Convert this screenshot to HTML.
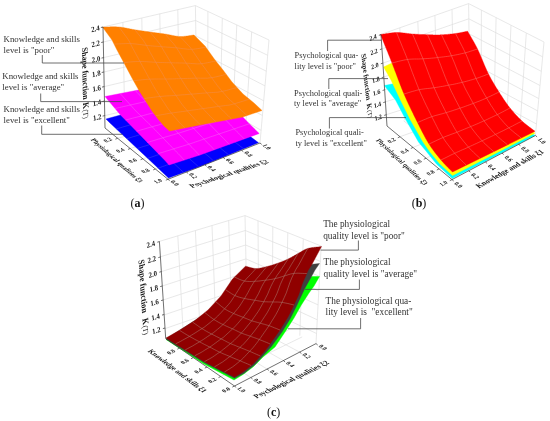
<!DOCTYPE html>
<html><head><meta charset="utf-8"><title>Figure</title>
<style>
html,body{margin:0;padding:0;background:#fff;}
body{width:550px;height:421px;overflow:hidden;}
svg{display:block;}
text{font-family:"Liberation Serif",serif;}
.lb{fill:#333;}
.b{font-weight:bold;fill:#1a1a1a;}
.cap{font-family:"Liberation Serif",serif;font-size:12px;fill:#111;}
</style></head><body>
<svg width="550" height="421" viewBox="0 0 550 421">
<rect width="550" height="421" fill="#fff"/>
<path d="M122.9 22.4 L124.8 123.3 M141.8 18.0 L143.6 118.8 M159.8 13.8 L161.6 114.5 M177.8 9.7 L179.5 110.2 M195.4 5.6 L197.0 106.0 M103.0 27.0 L195.4 5.6 M103.3 42.0 L195.6 20.5 M103.6 57.6 L195.9 36.0 M103.9 72.0 L196.1 50.3 M104.2 86.6 L196.3 64.8 M104.5 101.0 L196.6 79.2 M104.8 115.6 L196.8 93.7" fill="none" stroke="#dedede" stroke-width="0.7"/>
<path d="M207.9 11.4 L207.7 112.3 M222.3 18.2 L220.0 119.5 M236.8 24.9 L232.4 126.8 M251.7 31.9 L245.2 134.3 M269.0 40.0 L260.0 143.0 M195.4 5.6 L269.0 40.0 M195.6 20.5 L267.7 55.3 M195.9 36.0 L266.3 71.2 M196.1 50.3 L265.0 85.9 M196.3 64.8 L263.7 100.8 M196.6 79.2 L262.4 115.5 M196.8 93.7 L261.1 130.3" fill="none" stroke="#dedede" stroke-width="0.7"/>
<path d="M123.4 123.6 L186.4 172.0 M141.8 119.2 L204.8 164.8 M160.2 114.8 L223.2 157.5 M178.6 110.4 L241.6 150.3 M117.6 138.3 L209.6 113.4 M130.2 148.5 L222.2 120.8 M142.8 158.8 L234.8 128.2 M155.4 169.0 L247.4 135.6" fill="none" stroke="#dedede" stroke-width="0.7"/>
<polygon points="106.0,119.0 120.5,115.0 197.0,97.0 258.5,142.7 200.0,166.5 168.5,178.0 150.0,160.5 110.0,123.0 106.0,119.0" fill="#0000fe" stroke="#0000fe" stroke-width="0.4" stroke-linejoin="round"/>
<path d="M121.0 114.9 L122.5 116.3 L124.0 117.7 L125.4 119.1 L126.9 120.4 L128.4 121.8 L129.9 123.2 L131.4 124.6 L132.9 125.9 L134.4 127.3 L135.9 128.7 L137.4 130.0 L138.9 131.4 L140.4 132.8 L141.9 134.1 L143.4 135.5 L144.9 136.9 L146.3 138.2 L147.8 139.6 L149.3 141.0 L150.8 142.3 L152.3 143.7 L153.8 145.1 L155.3 146.4 L156.8 147.8 L158.3 149.2 L159.8 150.5 L161.3 151.9 L162.8 153.3 L164.3 154.6 L165.8 156.0 L167.3 157.4 L168.7 158.7 L170.2 160.1 L171.7 161.5 L173.2 162.9 L174.7 164.2 L176.2 165.6 L177.7 167.0 L179.2 168.4 L180.7 169.7 L182.1 171.1 L183.6 172.5 M136.2 111.3 L137.7 112.6 L139.2 114.0 L140.6 115.3 L142.1 116.7 L143.6 118.0 L145.1 119.3 L146.6 120.6 L148.1 122.0 L149.6 123.3 L151.1 124.6 L152.6 125.9 L154.1 127.2 L155.6 128.6 L157.0 129.9 L158.5 131.2 L160.0 132.5 L161.5 133.9 L163.0 135.2 L164.5 136.5 L166.0 137.8 L167.5 139.1 L169.0 140.5 L170.5 141.8 L172.0 143.1 L173.5 144.4 L175.0 145.7 L176.4 147.1 L177.9 148.4 L179.4 149.7 L180.9 151.0 L182.4 152.4 L183.9 153.7 L185.4 155.0 L186.9 156.3 L188.4 157.7 L189.8 159.0 L191.3 160.3 L192.8 161.6 L194.3 163.0 L195.8 164.3 L197.3 165.6 L198.8 166.9 M151.4 107.7 L152.9 109.0 L154.4 110.3 L155.8 111.6 L157.3 112.8 L158.8 114.1 L160.3 115.4 L161.8 116.6 L163.3 117.9 L164.7 119.2 L166.2 120.4 L167.7 121.7 L169.2 123.0 L170.7 124.2 L172.2 125.5 L173.6 126.7 L175.1 128.0 L176.6 129.3 L178.1 130.5 L179.6 131.8 L181.1 133.1 L182.6 134.3 L184.0 135.6 L185.5 136.9 L187.0 138.1 L188.5 139.4 L190.0 140.7 L191.5 141.9 L193.0 143.2 L194.4 144.4 L195.9 145.7 L197.4 147.0 L198.9 148.2 L200.4 149.5 L201.9 150.8 L203.3 152.0 L204.8 153.3 L206.3 154.6 L207.8 155.8 L209.3 157.1 L210.8 158.4 L212.2 159.7 L213.7 160.9 M166.6 104.1 L168.1 105.4 L169.5 106.6 L171.0 107.8 L172.5 109.0 L174.0 110.2 L175.4 111.4 L176.9 112.6 L178.4 113.8 L179.9 115.0 L181.4 116.2 L182.8 117.5 L184.3 118.7 L185.8 119.9 L187.3 121.1 L188.8 122.3 L190.2 123.5 L191.7 124.7 L193.2 125.9 L194.7 127.1 L196.1 128.3 L197.6 129.5 L199.1 130.7 L200.6 131.9 L202.1 133.1 L203.5 134.3 L205.0 135.5 L206.5 136.7 L208.0 137.9 L209.5 139.1 L210.9 140.4 L212.4 141.6 L213.9 142.8 L215.4 144.0 L216.8 145.2 L218.3 146.4 L219.8 147.6 L221.3 148.8 L222.7 150.0 L224.2 151.2 L225.7 152.4 L227.2 153.6 L228.6 154.8 M181.8 100.6 L183.3 101.7 L184.7 102.9 L186.2 104.0 L187.7 105.2 L189.1 106.3 L190.6 107.5 L192.1 108.6 L193.6 109.8 L195.0 110.9 L196.5 112.1 L198.0 113.2 L199.4 114.4 L200.9 115.5 L202.4 116.7 L203.9 117.8 L205.3 118.9 L206.8 120.1 L208.3 121.2 L209.7 122.4 L211.2 123.5 L212.7 124.7 L214.2 125.8 L215.6 127.0 L217.1 128.1 L218.6 129.3 L220.0 130.4 L221.5 131.6 L223.0 132.7 L224.5 133.9 L225.9 135.0 L227.4 136.1 L228.9 137.3 L230.3 138.4 L231.8 139.6 L233.3 140.7 L234.8 141.9 L236.2 143.0 L237.7 144.2 L239.2 145.3 L240.6 146.5 L242.1 147.6 L243.6 148.8 M116.3 128.9 L118.5 128.3 L120.6 127.7 L122.8 127.0 L124.9 126.4 L127.1 125.8 L129.2 125.2 L131.4 124.6 L133.6 124.0 L135.7 123.4 L137.9 122.9 L140.1 122.3 L142.3 121.8 L144.4 121.2 L146.6 120.6 L148.8 120.1 L150.9 119.5 L153.1 118.9 L155.3 118.4 L157.4 117.8 L159.6 117.2 L161.8 116.6 L163.9 116.1 L166.1 115.5 L168.3 114.9 L170.4 114.3 L172.6 113.8 L174.8 113.2 L176.9 112.6 L179.1 112.1 L181.3 111.5 L183.4 110.9 L185.6 110.3 L187.8 109.8 L189.9 109.2 L192.1 108.6 L194.3 108.1 L196.4 107.5 L198.6 106.9 L200.8 106.3 L202.9 105.8 L205.1 105.2 L207.2 104.6 M126.8 138.7 L128.9 138.1 L131.1 137.4 L133.2 136.7 L135.4 136.1 L137.5 135.4 L139.7 134.8 L141.9 134.1 L144.0 133.5 L146.2 132.9 L148.4 132.3 L150.5 131.7 L152.7 131.1 L154.9 130.5 L157.0 129.9 L159.2 129.3 L161.4 128.6 L163.5 128.0 L165.7 127.4 L167.8 126.7 L170.0 126.1 L172.2 125.5 L174.3 124.9 L176.5 124.2 L178.6 123.6 L180.8 123.0 L183.0 122.3 L185.1 121.7 L187.3 121.1 L189.4 120.4 L191.6 119.8 L193.8 119.2 L195.9 118.5 L198.1 117.9 L200.2 117.3 L202.4 116.7 L204.5 116.0 L206.7 115.4 L208.9 114.8 L211.0 114.1 L213.2 113.5 L215.3 112.9 L217.5 112.2 M137.2 148.5 L139.4 147.8 L141.5 147.1 L143.7 146.4 L145.9 145.8 L148.0 145.1 L150.2 144.4 L152.3 143.7 L154.5 143.0 L156.7 142.4 L158.8 141.7 L161.0 141.1 L163.2 140.4 L165.3 139.8 L167.5 139.1 L169.7 138.5 L171.8 137.8 L174.0 137.1 L176.1 136.4 L178.3 135.7 L180.4 135.0 L182.6 134.3 L184.7 133.6 L186.9 133.0 L189.0 132.3 L191.2 131.6 L193.3 130.9 L195.5 130.2 L197.6 129.5 L199.8 128.8 L201.9 128.1 L204.1 127.4 L206.2 126.7 L208.4 126.1 L210.5 125.4 L212.7 124.7 L214.8 124.0 L217.0 123.3 L219.1 122.6 L221.3 121.9 L223.4 121.2 L225.6 120.5 L227.8 119.8 M147.7 158.3 L149.8 157.6 L152.0 156.9 L154.1 156.2 L156.3 155.4 L158.5 154.7 L160.6 154.0 L162.8 153.3 L164.9 152.6 L167.1 151.9 L169.3 151.2 L171.4 150.5 L173.6 149.8 L175.8 149.1 L177.9 148.4 L180.1 147.7 L182.2 146.9 L184.4 146.2 L186.5 145.4 L188.7 144.7 L190.8 143.9 L193.0 143.2 L195.1 142.4 L197.3 141.7 L199.4 140.9 L201.5 140.2 L203.7 139.4 L205.8 138.7 L208.0 137.9 L210.1 137.2 L212.3 136.4 L214.4 135.7 L216.6 134.9 L218.7 134.2 L220.8 133.5 L223.0 132.7 L225.1 132.0 L227.3 131.2 L229.4 130.5 L231.6 129.7 L233.7 129.0 L235.9 128.2 L238.0 127.5 M158.1 168.2 L160.3 167.4 L162.4 166.6 L164.6 165.9 L166.7 165.1 L168.9 164.4 L171.1 163.6 L173.2 162.9 L175.4 162.1 L177.5 161.4 L179.7 160.6 L181.9 159.9 L184.0 159.2 L186.2 158.4 L188.4 157.7 L190.5 156.9 L192.7 156.1 L194.8 155.3 L196.9 154.5 L199.1 153.7 L201.2 152.9 L203.3 152.0 L205.5 151.2 L207.6 150.4 L209.8 149.6 L211.9 148.8 L214.0 148.0 L216.2 147.2 L218.3 146.4 L220.5 145.6 L222.6 144.8 L224.7 144.0 L226.9 143.2 L229.0 142.4 L231.1 141.5 L233.3 140.7 L235.4 139.9 L237.6 139.1 L239.7 138.3 L241.8 137.5 L244.0 136.7 L246.1 135.9 L248.2 135.1" fill="none" stroke="#4a4aee" stroke-width="0.5"/>
<polygon points="105.0,96.5 138.5,90.0 196.0,80.0 230.0,104.0 242.8,117.0 250.0,124.5 259.2,133.5 200.0,155.0 169.0,165.0 165.0,160.5 126.0,120.5 120.5,115.0 105.0,96.5" fill="#ff00ff" stroke="#ff00ff" stroke-width="0.4" stroke-linejoin="round"/>
<path d="M120.1 93.6 L121.6 95.2 L123.1 96.8 L124.5 98.5 L126.0 100.1 L127.5 101.7 L128.9 103.3 L130.4 105.0 L131.9 106.6 L133.3 108.2 L134.8 109.9 L136.3 111.5 L137.9 113.0 L139.5 114.5 L141.1 116.0 L142.7 117.6 L144.2 119.1 L145.8 120.6 L147.4 122.2 L148.9 123.7 L150.5 125.2 L152.1 126.8 L153.6 128.4 L155.2 129.9 L156.7 131.5 L158.2 133.1 L159.8 134.7 L161.3 136.3 L162.8 137.8 L164.4 139.4 L165.9 141.0 L167.4 142.6 L169.0 144.2 L170.5 145.7 L172.0 147.3 L173.6 148.9 L175.1 150.5 L176.6 152.1 L178.2 153.6 L179.7 155.2 L181.2 156.8 L182.7 158.5 L184.2 160.1 M135.3 90.6 L136.8 92.2 L138.3 93.7 L139.8 95.3 L141.3 96.8 L142.8 98.4 L144.3 99.9 L145.8 101.5 L147.3 103.0 L148.8 104.6 L150.3 106.1 L151.8 107.6 L153.4 109.1 L155.0 110.6 L156.6 112.0 L158.2 113.5 L159.8 115.0 L161.4 116.4 L163.0 117.9 L164.5 119.4 L166.1 120.8 L167.7 122.3 L169.2 123.9 L170.7 125.4 L172.2 127.0 L173.8 128.6 L175.3 130.1 L176.8 131.7 L178.3 133.3 L179.8 134.8 L181.3 136.4 L182.8 137.9 L184.3 139.5 L185.8 141.1 L187.3 142.6 L188.8 144.2 L190.3 145.8 L191.9 147.3 L193.4 148.9 L194.9 150.4 L196.4 152.0 L197.8 153.6 L199.3 155.2 M150.4 87.9 L152.0 89.4 L153.5 90.8 L155.0 92.3 L156.6 93.7 L158.1 95.2 L159.6 96.6 L161.2 98.1 L162.7 99.5 L164.2 101.0 L165.8 102.4 L167.3 103.8 L168.9 105.2 L170.5 106.6 L172.1 108.0 L173.7 109.4 L175.3 110.8 L176.9 112.2 L178.5 113.5 L180.1 114.9 L181.7 116.3 L183.3 117.7 L184.8 119.2 L186.2 120.8 L187.7 122.3 L189.2 123.8 L190.7 125.3 L192.2 126.9 L193.6 128.4 L195.1 129.9 L196.6 131.4 L198.1 133.0 L199.5 134.5 L201.0 136.0 L202.5 137.6 L204.0 139.1 L205.4 140.6 L206.9 142.2 L208.4 143.7 L209.9 145.2 L211.4 146.7 L212.8 148.3 L214.3 149.8 M165.6 85.3 L167.2 86.6 L168.7 88.0 L170.3 89.3 L171.9 90.7 L173.4 92.0 L175.0 93.4 L176.5 94.7 L178.1 96.0 L179.7 97.4 L181.2 98.7 L182.8 100.1 L184.4 101.4 L186.0 102.7 L187.6 104.0 L189.2 105.3 L190.8 106.6 L192.4 107.9 L194.0 109.2 L195.6 110.5 L197.2 111.8 L198.8 113.1 L200.3 114.6 L201.7 116.1 L203.2 117.6 L204.6 119.1 L206.1 120.6 L207.5 122.1 L209.0 123.5 L210.4 125.0 L211.9 126.5 L213.3 128.0 L214.8 129.5 L216.2 131.0 L217.6 132.5 L219.1 134.0 L220.5 135.5 L222.0 137.0 L223.5 138.4 L224.9 139.9 L226.4 141.4 L227.8 142.9 L229.3 144.4 M180.8 82.6 L182.4 83.9 L184.0 85.1 L185.6 86.4 L187.2 87.6 L188.8 88.9 L190.3 90.1 L191.9 91.3 L193.5 92.6 L195.1 93.8 L196.7 95.1 L198.3 96.3 L199.9 97.5 L201.5 98.8 L203.1 100.0 L204.7 101.2 L206.3 102.4 L208.0 103.7 L209.6 104.9 L211.2 106.1 L212.8 107.3 L214.4 108.6 L215.8 110.0 L217.2 111.4 L218.7 112.9 L220.1 114.3 L221.5 115.8 L222.9 117.2 L224.3 118.7 L225.8 120.1 L227.2 121.6 L228.6 123.0 L230.0 124.5 L231.4 126.0 L232.8 127.4 L234.2 128.9 L235.6 130.3 L237.1 131.8 L238.5 133.2 L239.9 134.6 L241.4 136.1 L242.8 137.5 L244.2 138.9 M115.0 108.5 L117.2 108.0 L119.4 107.5 L121.6 107.0 L123.8 106.5 L126.0 106.0 L128.2 105.5 L130.4 105.0 L132.6 104.5 L134.8 104.0 L137.0 103.5 L139.2 103.0 L141.4 102.5 L143.6 102.0 L145.8 101.5 L148.0 101.0 L150.2 100.5 L152.4 100.0 L154.6 99.5 L156.8 99.0 L159.0 98.5 L161.2 98.1 L163.4 97.6 L165.6 97.1 L167.8 96.6 L170.0 96.1 L172.2 95.7 L174.3 95.2 L176.5 94.7 L178.7 94.2 L180.9 93.7 L183.1 93.3 L185.3 92.8 L187.5 92.3 L189.7 91.8 L191.9 91.3 L194.1 90.9 L196.3 90.4 L198.5 89.9 L200.7 89.4 L202.9 88.9 L205.1 88.5 L207.3 88.0 M125.5 120.0 L127.8 119.5 L130.0 118.9 L132.2 118.3 L134.4 117.7 L136.6 117.2 L138.9 116.6 L141.1 116.0 L143.3 115.5 L145.5 114.9 L147.7 114.3 L150.0 113.7 L152.2 113.2 L154.4 112.6 L156.6 112.0 L158.8 111.4 L161.0 110.8 L163.3 110.3 L165.5 109.7 L167.7 109.1 L169.9 108.6 L172.1 108.0 L174.3 107.4 L176.5 106.8 L178.8 106.3 L181.0 105.7 L183.2 105.1 L185.4 104.6 L187.6 104.0 L189.8 103.4 L192.1 102.8 L194.3 102.3 L196.5 101.7 L198.7 101.1 L200.9 100.6 L203.1 100.0 L205.3 99.4 L207.6 98.8 L209.8 98.3 L212.0 97.7 L214.2 97.1 L216.4 96.6 L218.6 96.0 M136.5 131.2 L138.7 130.6 L140.9 130.0 L143.2 129.3 L145.4 128.7 L147.6 128.0 L149.9 127.4 L152.1 126.8 L154.3 126.1 L156.6 125.5 L158.8 124.9 L161.0 124.2 L163.3 123.6 L165.5 123.0 L167.7 122.3 L169.9 121.7 L172.2 121.0 L174.4 120.3 L176.6 119.7 L178.8 119.0 L181.1 118.4 L183.3 117.7 L185.5 117.1 L187.7 116.4 L189.9 115.8 L192.2 115.1 L194.4 114.4 L196.6 113.8 L198.8 113.1 L201.1 112.5 L203.3 111.8 L205.5 111.2 L207.7 110.5 L210.0 109.9 L212.2 109.2 L214.4 108.6 L216.6 107.9 L218.8 107.2 L221.1 106.6 L223.3 105.9 L225.5 105.3 L227.7 104.6 L230.0 104.0 M147.4 142.4 L149.6 141.8 L151.8 141.1 L154.0 140.5 L156.2 139.8 L158.4 139.1 L160.6 138.5 L162.8 137.8 L165.0 137.2 L167.2 136.5 L169.5 135.9 L171.7 135.2 L173.9 134.6 L176.1 133.9 L178.3 133.3 L180.5 132.6 L182.7 131.9 L184.9 131.2 L187.1 130.5 L189.3 129.8 L191.4 129.1 L193.6 128.4 L195.8 127.7 L198.0 127.0 L200.2 126.3 L202.4 125.6 L204.6 124.9 L206.8 124.2 L209.0 123.5 L211.2 122.8 L213.4 122.2 L215.6 121.5 L217.8 120.8 L219.9 120.1 L222.1 119.4 L224.3 118.7 L226.5 118.0 L228.7 117.3 L230.9 116.6 L233.1 115.9 L235.3 115.2 L237.5 114.5 L239.7 113.8 M158.3 153.6 L160.5 152.9 L162.7 152.3 L164.8 151.6 L167.0 150.9 L169.2 150.3 L171.4 149.6 L173.6 148.9 L175.7 148.2 L177.9 147.6 L180.1 146.9 L182.3 146.2 L184.5 145.6 L186.6 144.9 L188.8 144.2 L191.0 143.5 L193.2 142.8 L195.3 142.0 L197.5 141.3 L199.6 140.6 L201.8 139.8 L204.0 139.1 L206.1 138.4 L208.3 137.7 L210.4 136.9 L212.6 136.2 L214.8 135.5 L216.9 134.7 L219.1 134.0 L221.2 133.3 L223.4 132.5 L225.6 131.8 L227.7 131.1 L229.9 130.4 L232.0 129.6 L234.2 128.9 L236.4 128.2 L238.5 127.4 L240.7 126.7 L242.8 126.0 L245.0 125.2 L247.2 124.5 L249.3 123.8" fill="none" stroke="#f266f2" stroke-width="0.5"/>
<polygon points="102.5,27.0 102.7,27.0 103.0,27.0 103.2,27.0 103.4,27.0 103.7,27.0 103.9,27.0 104.2,27.0 104.4,27.0 104.6,27.0 104.9,27.0 105.1,27.0 105.3,27.0 105.6,27.0 105.8,27.0 106.0,26.9 106.3,26.9 106.5,26.9 106.8,26.9 107.0,26.9 107.2,26.9 107.5,26.9 107.7,26.9 107.9,26.9 108.2,26.9 108.4,26.9 108.7,26.9 108.9,26.9 109.1,26.9 109.4,26.9 109.6,26.9 109.8,26.8 110.1,26.8 110.3,26.8 110.5,26.8 110.8,26.8 111.0,26.8 111.3,26.8 111.5,26.8 111.7,26.8 112.0,26.8 112.2,26.8 112.4,26.8 112.7,26.8 112.9,26.8 113.1,26.8 113.4,26.8 113.6,26.8 113.9,26.8 114.1,26.8 114.3,26.8 114.6,26.8 114.8,26.8 115.0,26.8 115.3,26.8 115.5,26.8 115.7,26.8 116.0,26.8 116.2,26.8 116.4,26.8 116.7,26.9 116.9,26.9 117.1,26.9 117.4,26.9 117.6,26.9 117.8,26.9 118.1,26.9 118.3,26.9 118.5,27.0 118.8,27.0 119.0,27.0 119.2,27.0 119.5,27.0 119.7,27.1 119.9,27.1 120.2,27.1 120.4,27.1 120.6,27.2 120.9,27.2 121.1,27.2 121.3,27.3 121.6,27.3 121.8,27.3 122.0,27.4 122.2,27.4 122.5,27.4 122.7,27.5 122.9,27.5 123.2,27.5 123.4,27.6 123.6,27.6 123.9,27.7 124.1,27.7 124.3,27.7 124.6,27.8 124.8,27.8 125.0,27.9 125.3,27.9 125.5,27.9 125.7,28.0 125.9,28.0 126.2,28.1 126.4,28.1 126.6,28.2 126.9,28.2 127.1,28.3 127.3,28.3 127.6,28.4 127.8,28.4 128.0,28.4 128.2,28.5 128.5,28.5 128.7,28.6 128.9,28.6 129.2,28.7 129.4,28.7 129.6,28.8 129.8,28.8 130.1,28.9 130.3,28.9 130.5,29.0 130.7,29.0 131.0,29.1 131.2,29.1 131.4,29.1 131.6,29.2 131.9,29.2 132.1,29.3 132.3,29.3 132.5,29.4 132.8,29.4 133.0,29.4 133.2,29.5 133.4,29.5 133.7,29.6 133.9,29.6 134.1,29.7 134.3,29.7 134.6,29.7 134.8,29.8 135.0,29.8 135.2,29.8 135.4,29.9 135.7,29.9 135.9,29.9 136.1,30.0 136.3,30.0 136.5,30.0 136.8,30.1 137.0,30.1 137.2,30.1 137.4,30.2 137.6,30.2 137.8,30.2 138.1,30.3 138.3,30.3 138.5,30.3 138.7,30.4 138.9,30.4 139.1,30.4 139.4,30.5 139.6,30.5 139.8,30.5 140.0,30.6 140.2,30.6 140.4,30.6 140.6,30.7 140.9,30.7 141.1,30.7 141.3,30.8 141.5,30.8 141.7,30.8 141.9,30.9 142.1,30.9 142.3,30.9 142.6,31.0 142.8,31.0 143.0,31.0 143.2,31.0 143.4,31.1 143.6,31.1 143.8,31.1 144.0,31.2 144.3,31.2 144.5,31.2 144.7,31.3 144.9,31.3 145.1,31.3 145.3,31.3 145.5,31.4 145.7,31.4 146.0,31.4 146.2,31.5 146.4,31.5 146.6,31.5 146.8,31.6 147.0,31.6 147.2,31.6 147.4,31.6 147.7,31.7 147.9,31.7 148.1,31.7 148.3,31.8 148.5,31.8 148.7,31.8 148.9,31.9 149.1,31.9 149.4,31.9 149.6,31.9 149.8,32.0 150.0,32.0 150.2,32.0 150.4,32.1 150.6,32.1 150.9,32.1 151.1,32.1 151.3,32.2 151.5,32.2 151.7,32.2 151.9,32.3 152.1,32.3 152.4,32.3 152.6,32.3 152.8,32.4 153.0,32.4 153.2,32.4 153.4,32.5 153.6,32.5 153.9,32.5 154.1,32.5 154.3,32.6 154.5,32.6 154.7,32.6 154.9,32.7 155.1,32.7 155.4,32.7 155.6,32.7 155.8,32.8 156.0,32.8 156.2,32.8 156.4,32.8 156.6,32.9 156.9,32.9 157.1,32.9 157.3,33.0 157.5,33.0 157.7,33.0 157.9,33.0 158.1,33.1 158.4,33.1 158.6,33.1 158.8,33.1 159.0,33.2 159.2,33.2 159.4,33.2 159.6,33.3 159.9,33.3 160.1,33.3 160.3,33.3 160.5,33.4 160.7,33.4 160.9,33.4 161.1,33.5 161.4,33.5 161.6,33.5 161.8,33.5 162.0,33.6 162.2,33.6 162.4,33.6 162.6,33.7 162.9,33.7 163.1,33.7 163.3,33.8 163.5,33.8 163.7,33.8 163.9,33.8 164.1,33.9 164.4,33.9 164.6,33.9 164.8,34.0 165.0,34.0 165.2,34.0 165.4,34.1 165.6,34.1 165.9,34.1 166.1,34.2 166.3,34.2 166.5,34.2 166.7,34.3 166.9,34.3 167.2,34.4 167.4,34.4 167.6,34.4 167.8,34.5 168.0,34.5 168.2,34.6 168.4,34.6 168.7,34.7 168.9,34.7 169.1,34.7 169.3,34.8 169.5,34.8 169.7,34.9 170.0,34.9 170.2,35.0 170.4,35.0 170.6,35.1 170.8,35.1 171.0,35.2 171.3,35.2 171.5,35.2 171.7,35.3 171.9,35.3 172.1,35.4 172.3,35.4 172.6,35.5 172.8,35.5 173.0,35.6 173.2,35.6 173.4,35.6 173.6,35.7 173.9,35.7 174.1,35.8 174.3,35.8 174.5,35.8 174.7,35.9 174.9,35.9 175.1,36.0 175.4,36.0 175.6,36.0 175.8,36.1 176.0,36.1 176.2,36.1 176.4,36.2 176.6,36.2 176.9,36.2 177.1,36.2 177.3,36.3 177.5,36.3 177.7,36.3 177.9,36.3 178.1,36.4 178.3,36.4 178.5,36.4 178.8,36.4 179.0,36.4 179.2,36.5 179.4,36.5 179.6,36.5 179.8,36.5 180.0,36.5 180.2,36.5 180.4,36.5 180.6,36.5 180.8,36.5 181.0,36.5 181.2,36.5 181.4,36.5 181.6,36.5 181.8,36.5 182.1,36.5 182.3,36.5 182.5,36.5 182.7,36.5 182.9,36.5 183.1,36.4 183.3,36.4 183.5,36.4 183.7,36.4 183.9,36.4 184.1,36.4 184.3,36.3 184.5,36.3 184.7,36.3 184.9,36.3 185.1,36.3 185.3,36.2 185.5,36.2 185.7,36.2 185.9,36.2 186.1,36.1 186.3,36.1 186.5,36.1 186.7,36.1 186.9,36.0 187.1,36.0 187.3,36.0 187.5,35.9 187.7,35.9 187.9,35.9 188.1,35.9 188.3,35.8 188.4,35.8 188.6,35.8 188.8,35.7 189.0,35.7 189.2,35.7 189.4,35.6 189.6,35.6 189.8,35.6 190.0,35.5 190.2,35.5 190.4,35.5 190.6,35.5 190.8,35.4 191.0,35.4 191.2,35.4 191.4,35.3 191.6,35.3 191.8,35.3 192.0,35.2 192.2,35.2 192.4,35.2 192.6,35.2 192.8,35.1 193.0,35.1 193.2,35.1 193.4,35.1 193.6,35.0 193.8,35.0 194.0,35.0 205.0,46.0 215.0,60.0 223.0,70.0 232.0,82.0 243.0,94.0 254.0,103.0 262.0,110.5 242.8,117.0 205.0,124.0 169.5,131.0 164.0,126.0 158.0,119.0 152.0,111.0 145.0,100.0 139.0,90.5 132.0,78.0 124.0,63.0 117.0,50.0 112.0,40.0 102.5,27.0" fill="#ff8000" stroke="#ff8000" stroke-width="0.4" stroke-linejoin="round"/>
<path d="M119.0 27.0 L120.7 29.3 L122.4 31.6 L124.1 34.0 L125.9 36.3 L127.6 38.6 L129.1 41.0 L130.4 43.6 L131.7 46.2 L133.0 48.7 L134.4 51.3 L135.8 53.8 L137.2 56.4 L138.5 58.9 L139.9 61.4 L141.3 64.0 L142.7 66.5 L144.1 69.0 L145.5 71.6 L146.9 74.1 L148.2 76.6 L149.7 79.2 L151.1 81.7 L152.5 84.2 L153.9 86.7 L155.4 89.2 L156.9 91.6 L158.5 94.1 L160.0 96.5 L161.6 98.9 L163.2 101.3 L164.8 103.7 L166.3 106.1 L167.9 108.5 L169.7 110.8 L171.5 113.1 L173.2 115.3 L175.1 117.5 L177.0 119.7 L178.8 121.9 L180.8 124.0 L182.9 126.0 L185.0 127.9 M135.0 29.8 L136.7 32.0 L138.4 34.2 L140.1 36.3 L141.8 38.5 L143.5 40.7 L145.0 43.0 L146.4 45.4 L147.7 47.8 L149.0 50.2 L150.3 52.7 L151.7 55.1 L153.1 57.5 L154.4 59.9 L155.8 62.3 L157.2 64.7 L158.6 67.1 L160.0 69.5 L161.4 71.8 L162.8 74.2 L164.1 76.6 L165.5 79.0 L166.9 81.4 L168.3 83.8 L169.8 86.2 L171.2 88.5 L172.7 90.8 L174.3 93.1 L175.9 95.4 L177.4 97.6 L179.0 99.9 L180.5 102.2 L182.1 104.4 L183.8 106.6 L185.6 108.7 L187.3 110.8 L189.1 112.9 L190.9 115.0 L192.8 117.0 L194.6 119.1 L196.5 121.1 L198.5 123.0 L200.5 124.9 M150.0 32.0 L151.7 34.1 L153.4 36.1 L155.1 38.2 L156.8 40.2 L158.5 42.3 L160.1 44.4 L161.5 46.7 L162.8 49.0 L164.1 51.3 L165.5 53.6 L166.9 55.9 L168.2 58.2 L169.6 60.5 L171.0 62.8 L172.4 65.0 L173.9 67.3 L175.3 69.6 L176.7 71.8 L178.1 74.1 L179.5 76.4 L180.9 78.6 L182.3 80.9 L183.8 83.2 L185.2 85.4 L186.6 87.7 L188.2 89.8 L189.8 92.0 L191.4 94.1 L192.9 96.3 L194.5 98.4 L196.1 100.6 L197.7 102.7 L199.4 104.7 L201.2 106.7 L203.0 108.6 L204.8 110.6 L206.6 112.5 L208.5 114.4 L210.3 116.4 L212.2 118.3 L214.1 120.1 L216.1 121.9 M165.0 34.0 L166.7 35.9 L168.4 37.9 L170.1 39.8 L171.8 41.8 L173.5 43.7 L175.1 45.7 L176.6 47.8 L177.9 50.0 L179.3 52.2 L180.7 54.4 L182.1 56.6 L183.4 58.8 L184.8 61.0 L186.2 63.2 L187.7 65.3 L189.1 67.4 L190.6 69.6 L192.0 71.7 L193.5 73.8 L194.9 76.0 L196.3 78.2 L197.8 80.3 L199.2 82.5 L200.6 84.6 L202.1 86.8 L203.7 88.8 L205.3 90.9 L206.9 92.9 L208.5 94.9 L210.0 96.9 L211.6 99.0 L213.3 100.9 L215.1 102.8 L216.9 104.6 L218.7 106.4 L220.5 108.2 L222.4 110.0 L224.2 111.9 L226.0 113.7 L227.9 115.5 L229.7 117.3 L231.6 119.1 M180.0 36.5 L181.7 38.3 L183.4 40.1 L185.1 41.9 L186.8 43.7 L188.5 45.5 L190.2 47.3 L191.7 49.3 L193.0 51.4 L194.4 53.4 L195.8 55.5 L197.2 57.5 L198.6 59.6 L200.0 61.6 L201.4 63.7 L202.9 65.6 L204.4 67.6 L205.8 69.6 L207.3 71.6 L208.8 73.6 L210.2 75.6 L211.7 77.7 L213.1 79.7 L214.5 81.7 L216.0 83.7 L217.4 85.7 L219.0 87.6 L220.6 89.5 L222.2 91.4 L223.9 93.3 L225.5 95.1 L227.1 97.0 L228.8 98.8 L230.6 100.5 L232.4 102.1 L234.3 103.8 L236.1 105.4 L238.0 107.1 L239.8 108.8 L241.6 110.5 L243.4 112.2 L245.2 113.9 L247.0 115.6 M114.1 44.1 L116.4 44.0 L118.7 43.9 L121.1 43.8 L123.4 43.7 L125.8 43.6 L128.1 43.5 L130.4 43.6 L132.7 43.7 L135.0 43.9 L137.3 44.2 L139.6 44.5 L141.9 44.8 L144.1 45.1 L146.4 45.4 L148.6 45.6 L150.7 45.8 L152.9 46.0 L155.0 46.2 L157.2 46.3 L159.3 46.5 L161.5 46.7 L163.6 46.9 L165.8 47.0 L167.9 47.2 L170.1 47.3 L172.3 47.5 L174.4 47.7 L176.6 47.8 L178.7 48.1 L180.9 48.4 L183.1 48.7 L185.3 48.9 L187.4 49.2 L189.6 49.3 L191.7 49.3 L193.7 49.2 L195.8 48.9 L197.8 48.6 L199.8 48.3 L201.8 47.9 L203.8 47.5 L205.8 47.2 M123.7 62.5 L126.0 62.3 L128.4 62.1 L130.7 61.9 L133.0 61.7 L135.3 61.6 L137.6 61.5 L139.9 61.4 L142.2 61.5 L144.5 61.6 L146.8 61.7 L149.1 61.9 L151.3 62.0 L153.6 62.2 L155.8 62.3 L158.0 62.4 L160.2 62.5 L162.4 62.5 L164.5 62.6 L166.7 62.7 L168.9 62.7 L171.0 62.8 L173.2 62.8 L175.4 62.9 L177.5 62.9 L179.7 63.0 L181.9 63.0 L184.1 63.1 L186.2 63.2 L188.4 63.3 L190.6 63.4 L192.8 63.6 L195.0 63.7 L197.2 63.9 L199.3 63.8 L201.4 63.7 L203.5 63.4 L205.6 63.1 L207.6 62.7 L209.7 62.3 L211.7 61.8 L213.7 61.4 L215.8 61.0 M133.5 80.7 L135.8 80.5 L138.1 80.2 L140.4 80.0 L142.8 79.7 L145.1 79.5 L147.4 79.3 L149.7 79.2 L151.9 79.1 L154.2 79.0 L156.5 79.0 L158.8 79.0 L161.0 79.0 L163.3 79.0 L165.5 79.0 L167.8 79.0 L170.0 78.9 L172.2 78.9 L174.4 78.8 L176.5 78.7 L178.7 78.7 L180.9 78.6 L183.1 78.6 L185.3 78.5 L187.5 78.4 L189.7 78.4 L191.9 78.3 L194.1 78.2 L196.3 78.2 L198.5 78.1 L200.7 78.2 L203.0 78.2 L205.2 78.2 L207.4 78.2 L209.5 77.9 L211.7 77.7 L213.8 77.3 L215.9 76.9 L218.0 76.4 L220.0 75.9 L222.1 75.4 L224.2 74.8 L226.3 74.4 M144.1 98.5 L146.4 98.2 L148.6 97.9 L150.9 97.6 L153.2 97.3 L155.5 97.0 L157.8 96.7 L160.0 96.5 L162.3 96.3 L164.6 96.1 L166.9 95.9 L169.1 95.8 L171.4 95.7 L173.6 95.5 L175.9 95.4 L178.1 95.2 L180.3 95.0 L182.5 94.8 L184.7 94.7 L186.9 94.5 L189.1 94.3 L191.4 94.1 L193.6 94.0 L195.8 93.8 L198.0 93.6 L200.2 93.4 L202.4 93.2 L204.6 93.1 L206.9 92.9 L209.1 92.7 L211.3 92.6 L213.5 92.5 L215.7 92.3 L217.9 92.2 L220.1 91.8 L222.2 91.4 L224.4 90.9 L226.5 90.4 L228.6 89.8 L230.7 89.2 L232.8 88.6 L234.9 88.1 L237.0 87.5 M155.6 115.7 L157.8 115.4 L160.1 115.0 L162.4 114.6 L164.7 114.2 L166.9 113.8 L169.2 113.4 L171.5 113.1 L173.7 112.7 L176.0 112.4 L178.3 112.1 L180.5 111.8 L182.8 111.5 L185.1 111.2 L187.3 110.8 L189.6 110.5 L191.8 110.2 L194.0 109.9 L196.3 109.6 L198.5 109.3 L200.8 108.9 L203.0 108.6 L205.3 108.3 L207.5 108.0 L209.7 107.7 L212.0 107.4 L214.2 107.0 L216.5 106.7 L218.7 106.4 L221.0 106.1 L223.2 105.8 L225.4 105.5 L227.7 105.3 L229.9 105.0 L232.1 104.4 L234.3 103.8 L236.4 103.2 L238.6 102.5 L240.7 101.9 L242.9 101.2 L245.0 100.5 L247.2 99.8 L249.3 99.2" fill="none" stroke="#f0905c" stroke-width="0.45"/>
<polyline points="103.0,27.0 105.0,128.0" fill="none" stroke="#333" stroke-width="0.7"/>
<polyline points="105.0,128.0 168.0,179.3 260.0,143.0" fill="none" stroke="#333" stroke-width="0.7"/>
<polyline points="100.9,27.5 103.0,27.0" fill="none" stroke="#333" stroke-width="0.7"/>
<text transform="matrix(0.9742 -0.2256 0.1211 1.0732 99.69 27.77)" x="0" y="2.31" class="b" font-size="7" text-anchor="end">2.4</text>
<polyline points="101.2,42.5 103.3,42.0" fill="none" stroke="#333" stroke-width="0.7"/>
<text transform="matrix(0.9742 -0.2256 0.1211 1.0732 99.98 42.77)" x="0" y="2.31" class="b" font-size="7" text-anchor="end">2.2</text>
<polyline points="101.5,58.1 103.6,57.6" fill="none" stroke="#333" stroke-width="0.7"/>
<text transform="matrix(0.9742 -0.2256 0.1211 1.0732 100.29 58.37)" x="0" y="2.31" class="b" font-size="7" text-anchor="end">2.0</text>
<polyline points="101.7,72.5 103.9,72.0" fill="none" stroke="#333" stroke-width="0.7"/>
<text transform="matrix(0.9742 -0.2256 0.1211 1.0732 100.58 72.77)" x="0" y="2.31" class="b" font-size="7" text-anchor="end">1.8</text>
<polyline points="102.0,87.1 104.2,86.6" fill="none" stroke="#333" stroke-width="0.7"/>
<text transform="matrix(0.9742 -0.2256 0.1211 1.0732 100.87 87.37)" x="0" y="2.31" class="b" font-size="7" text-anchor="end">1.6</text>
<polyline points="102.3,101.5 104.5,101.0" fill="none" stroke="#333" stroke-width="0.7"/>
<text transform="matrix(0.9742 -0.2256 0.1211 1.0732 101.15 101.77)" x="0" y="2.31" class="b" font-size="7" text-anchor="end">1.4</text>
<polyline points="102.6,116.1 104.8,115.6" fill="none" stroke="#333" stroke-width="0.7"/>
<text transform="matrix(0.9742 -0.2256 0.1211 1.0732 101.44 116.37)" x="0" y="2.31" class="b" font-size="7" text-anchor="end">1.2</text>
<text transform="matrix(0.0198 0.9998 -1.0522 0.2437 82.00 48.00)" x="0" y="0.00" class="b" font-size="8.1" text-anchor="start">Shape function <tspan dx="1.0">K</tspan><tspan dx="0.8" font-weight="normal" font-size="7.0">(T)</tspan></text>
<polyline points="117.6,138.3 115.4,139.2" fill="none" stroke="#333" stroke-width="0.7"/>
<text transform="matrix(0.9288 -0.3705 0.8543 0.6929 107.60 140.06)" x="0" y="1.91" class="b" font-size="5.8" text-anchor="middle">0.2</text>
<polyline points="130.2,148.5 128.0,149.4" fill="none" stroke="#333" stroke-width="0.7"/>
<text transform="matrix(0.9288 -0.3705 0.8543 0.6929 120.20 150.32)" x="0" y="1.91" class="b" font-size="5.8" text-anchor="middle">0.4</text>
<polyline points="142.8,158.8 140.6,159.7" fill="none" stroke="#333" stroke-width="0.7"/>
<text transform="matrix(0.9288 -0.3705 0.8543 0.6929 132.80 160.58)" x="0" y="1.91" class="b" font-size="5.8" text-anchor="middle">0.6</text>
<polyline points="155.4,169.0 153.2,169.9" fill="none" stroke="#333" stroke-width="0.7"/>
<text transform="matrix(0.9288 -0.3705 0.8543 0.6929 145.40 170.84)" x="0" y="1.91" class="b" font-size="5.8" text-anchor="middle">0.8</text>
<polyline points="168.0,179.3 165.8,180.2" fill="none" stroke="#333" stroke-width="0.7"/>
<text transform="matrix(0.9288 -0.3705 0.8543 0.6929 158.00 181.10)" x="0" y="1.91" class="b" font-size="5.8" text-anchor="middle">1.0</text>
<polyline points="168.0,179.3 169.7,180.7" fill="none" stroke="#333" stroke-width="0.7"/>
<text transform="matrix(0.7767 0.6299 -1.0217 0.4076 174.80 183.00)" x="0" y="1.91" class="b" font-size="5.8" text-anchor="middle">0.0</text>
<polyline points="186.4,172.0 188.1,173.4" fill="none" stroke="#333" stroke-width="0.7"/>
<text transform="matrix(0.7767 0.6299 -1.0217 0.4076 193.20 175.74)" x="0" y="1.91" class="b" font-size="5.8" text-anchor="middle">0.2</text>
<polyline points="204.8,164.8 206.5,166.2" fill="none" stroke="#333" stroke-width="0.7"/>
<text transform="matrix(0.7767 0.6299 -1.0217 0.4076 211.60 168.48)" x="0" y="1.91" class="b" font-size="5.8" text-anchor="middle">0.4</text>
<polyline points="223.2,157.5 224.9,158.9" fill="none" stroke="#333" stroke-width="0.7"/>
<text transform="matrix(0.7767 0.6299 -1.0217 0.4076 230.00 161.22)" x="0" y="1.91" class="b" font-size="5.8" text-anchor="middle">0.6</text>
<polyline points="241.6,150.3 243.3,151.7" fill="none" stroke="#333" stroke-width="0.7"/>
<text transform="matrix(0.7767 0.6299 -1.0217 0.4076 248.40 153.96)" x="0" y="1.91" class="b" font-size="5.8" text-anchor="middle">0.8</text>
<polyline points="260.0,143.0 261.7,144.4" fill="none" stroke="#333" stroke-width="0.7"/>
<text transform="matrix(0.7767 0.6299 -1.0217 0.4076 266.80 146.70)" x="0" y="1.91" class="b" font-size="5.8" text-anchor="middle">1.0</text>
<text transform="matrix(0.7490 0.6626 -1.0682 0.4261 90.30 139.80)" x="0" y="0.00" class="b" font-size="6.1" text-anchor="start">Physiological qualities ξ3</text>
<text transform="matrix(0.9494 -0.3140 0.7767 0.6299 192.30 188.00)" x="0" y="0.00" class="b" font-size="7.5" text-anchor="start">Psychological qualities ξ2</text>
<text x="3.6" y="41.7" class="lb" font-size="8.8">Knowledge and skills</text>
<text x="3.6" y="52.5" class="lb" font-size="8.8">level is "poor"</text>
<polyline points="42.3,55.0 42.3,63.0 124.0,63.0" fill="none" stroke="#4a4a4a" stroke-width="0.8"/>
<text x="2.3" y="79.3" class="lb" font-size="8.8">Knowledge and skills</text>
<text x="2.3" y="90.4" class="lb" font-size="8.8">level is "average"</text>
<polyline points="40.7,93.5 40.7,101.6 122.0,101.6" fill="none" stroke="#4a4a4a" stroke-width="0.8"/>
<text x="3.6" y="111.5" class="lb" font-size="8.8">Knowledge and skills</text>
<text x="3.6" y="122.5" class="lb" font-size="8.8">level is "excellent"</text>
<polyline points="41.7,125.5 41.7,134.3 122.5,134.3" fill="none" stroke="#4a4a4a" stroke-width="0.8"/>
<text x="137.5" y="207.2" class="cap" text-anchor="middle">(<tspan font-weight="bold">a</tspan>)</text>
<path d="M399.8 27.8 L404.8 120.4 M417.8 21.5 L421.9 115.1 M434.9 15.5 L438.0 110.0 M452.0 9.5 L454.2 104.9 M468.6 3.6 L470.0 100.0 M381.0 34.4 L468.6 3.6 M381.9 48.9 L468.8 18.8 M382.9 63.1 L469.0 33.8 M383.8 77.0 L469.3 48.4 M384.6 89.8 L469.4 61.9 M385.4 101.9 L469.6 74.6 M386.3 114.7 L469.8 88.1" fill="none" stroke="#dedede" stroke-width="0.7"/>
<path d="M481.4 10.1 L481.1 106.0 M496.1 17.6 L493.9 113.0 M511.0 25.2 L506.8 120.0 M526.3 33.0 L520.0 127.2 M544.0 42.0 L535.4 135.5 M468.6 3.6 L544.0 42.0 M468.8 18.8 L542.6 56.8 M469.0 33.8 L541.3 71.3 M469.3 48.4 L540.0 85.5 M469.4 61.9 L538.8 98.6 M469.6 74.6 L537.7 110.9 M469.8 88.1 L536.5 124.0" fill="none" stroke="#dedede" stroke-width="0.7"/>
<path d="M403.6 120.8 L468.7 170.8 M420.2 115.6 L485.4 162.0 M436.8 110.4 L502.0 153.1 M453.4 105.2 L518.7 144.3 M400.0 136.7 L483.1 107.1 M413.0 147.4 L496.2 114.2 M426.0 158.2 L509.2 121.3 M439.0 168.9 L522.3 128.4" fill="none" stroke="#dedede" stroke-width="0.7"/>
<polygon points="384.4,85.6 392.0,84.0 466.0,70.0 480.0,85.0 500.0,105.0 515.0,121.0 535.0,135.4 452.2,178.5 436.5,164.0 426.0,151.0 418.5,142.0 406.0,120.0 395.5,100.0 384.4,85.6" fill="#00ffff" stroke="#00ffff" stroke-width="0.4" stroke-linejoin="round"/>
<polygon points="383.6,67.0 392.0,63.0 466.0,50.0 480.0,70.0 500.0,100.0 515.0,117.0 535.0,133.2 452.5,175.5 440.0,164.0 430.0,152.0 423.0,142.0 410.5,120.0 400.5,100.0 391.0,80.0 383.6,67.0" fill="#ffff00" stroke="#ffff00" stroke-width="0.4" stroke-linejoin="round"/>
<polygon points="380.5,34.5 380.7,34.5 381.0,34.4 381.2,34.4 381.4,34.4 381.6,34.3 381.9,34.3 382.1,34.3 382.3,34.3 382.6,34.2 382.8,34.2 383.0,34.1 383.2,34.1 383.5,34.1 383.7,34.0 383.9,34.0 384.2,34.0 384.4,33.9 384.6,33.9 384.8,33.9 385.1,33.8 385.3,33.8 385.5,33.8 385.8,33.7 386.0,33.7 386.2,33.6 386.4,33.6 386.7,33.6 386.9,33.5 387.1,33.5 387.4,33.5 387.6,33.4 387.8,33.4 388.0,33.4 388.3,33.3 388.5,33.3 388.7,33.2 389.0,33.2 389.2,33.2 389.4,33.1 389.6,33.1 389.9,33.1 390.1,33.0 390.3,33.0 390.6,33.0 390.8,33.0 391.0,32.9 391.2,32.9 391.5,32.9 391.7,32.8 391.9,32.8 392.2,32.8 392.4,32.8 392.6,32.7 392.8,32.7 393.1,32.7 393.3,32.7 393.5,32.7 393.8,32.6 394.0,32.6 394.2,32.6 394.4,32.6 394.7,32.6 394.9,32.6 395.1,32.5 395.4,32.5 395.6,32.5 395.8,32.5 396.0,32.5 396.3,32.5 396.5,32.5 396.7,32.5 397.0,32.5 397.2,32.5 397.4,32.5 397.6,32.5 397.9,32.5 398.1,32.5 398.3,32.5 398.6,32.5 398.8,32.5 399.0,32.5 399.3,32.6 399.5,32.6 399.7,32.6 399.9,32.6 400.2,32.6 400.4,32.6 400.6,32.7 400.9,32.7 401.1,32.7 401.3,32.7 401.6,32.7 401.8,32.8 402.0,32.8 402.3,32.8 402.5,32.8 402.7,32.9 402.9,32.9 403.2,32.9 403.4,32.9 403.6,33.0 403.9,33.0 404.1,33.0 404.3,33.1 404.6,33.1 404.8,33.1 405.0,33.1 405.3,33.2 405.5,33.2 405.7,33.2 405.9,33.3 406.2,33.3 406.4,33.3 406.6,33.3 406.9,33.4 407.1,33.4 407.3,33.4 407.5,33.5 407.8,33.5 408.0,33.5 408.2,33.6 408.5,33.6 408.7,33.6 408.9,33.6 409.1,33.7 409.4,33.7 409.6,33.7 409.8,33.7 410.0,33.8 410.3,33.8 410.5,33.8 410.7,33.8 410.9,33.9 411.2,33.9 411.4,33.9 411.6,33.9 411.8,33.9 412.1,34.0 412.3,34.0 412.5,34.0 412.7,34.0 412.9,34.0 413.2,34.0 413.4,34.1 413.6,34.1 413.8,34.1 414.0,34.1 414.3,34.1 414.5,34.1 414.7,34.1 414.9,34.2 415.1,34.2 415.4,34.2 415.6,34.2 415.8,34.2 416.0,34.2 416.2,34.2 416.5,34.3 416.7,34.3 416.9,34.3 417.1,34.3 417.3,34.3 417.5,34.3 417.8,34.3 418.0,34.3 418.2,34.3 418.4,34.4 418.6,34.4 418.8,34.4 419.1,34.4 419.3,34.4 419.5,34.4 419.7,34.4 419.9,34.4 420.1,34.4 420.3,34.4 420.6,34.5 420.8,34.5 421.0,34.5 421.2,34.5 421.4,34.5 421.6,34.5 421.8,34.5 422.0,34.5 422.3,34.5 422.5,34.5 422.7,34.5 422.9,34.6 423.1,34.6 423.3,34.6 423.5,34.6 423.7,34.6 423.9,34.6 424.2,34.6 424.4,34.6 424.6,34.6 424.8,34.6 425.0,34.6 425.2,34.6 425.4,34.6 425.6,34.6 425.8,34.7 426.0,34.7 426.3,34.7 426.5,34.7 426.7,34.7 426.9,34.7 427.1,34.7 427.3,34.7 427.5,34.7 427.7,34.7 427.9,34.7 428.1,34.7 428.3,34.7 428.5,34.7 428.7,34.7 428.9,34.7 429.1,34.7 429.3,34.8 429.6,34.8 429.8,34.8 430.0,34.8 430.2,34.8 430.4,34.8 430.6,34.8 430.8,34.8 431.0,34.8 431.2,34.8 431.4,34.8 431.6,34.8 431.8,34.8 432.0,34.8 432.2,34.8 432.4,34.8 432.6,34.8 432.8,34.8 433.0,34.8 433.2,34.9 433.4,34.9 433.6,34.9 433.8,34.9 434.0,34.9 434.2,34.9 434.4,34.9 434.6,34.9 434.8,34.9 435.0,34.9 435.2,34.9 435.4,34.9 435.6,34.9 435.8,34.9 435.9,34.9 436.1,34.9 436.3,34.9 436.5,34.9 436.7,34.9 436.9,34.9 437.1,34.9 437.3,34.9 437.5,34.9 437.7,34.9 437.9,34.9 438.1,34.9 438.3,34.9 438.5,34.9 438.7,34.9 438.9,34.9 439.1,34.9 439.3,34.9 439.5,34.9 439.7,34.9 439.9,34.9 440.1,34.8 440.3,34.8 440.5,34.8 440.7,34.8 440.9,34.8 441.1,34.8 441.3,34.8 441.5,34.8 441.7,34.8 441.9,34.8 442.1,34.8 442.3,34.8 442.5,34.8 442.7,34.7 442.9,34.7 443.1,34.7 443.3,34.7 443.5,34.7 443.7,34.7 443.9,34.7 444.1,34.7 444.3,34.6 444.5,34.6 444.7,34.6 444.9,34.6 445.1,34.6 445.4,34.6 445.6,34.6 445.8,34.5 446.0,34.5 446.2,34.5 446.4,34.5 446.6,34.5 446.8,34.5 447.0,34.4 447.2,34.4 447.4,34.4 447.6,34.4 447.8,34.4 448.0,34.4 448.2,34.3 448.4,34.3 448.6,34.3 448.8,34.3 449.0,34.3 449.2,34.2 449.4,34.2 449.6,34.2 449.8,34.2 450.0,34.2 450.2,34.1 450.4,34.1 450.6,34.1 450.8,34.1 451.0,34.1 451.2,34.0 451.4,34.0 451.6,34.0 451.8,34.0 452.0,33.9 452.2,33.9 452.4,33.9 452.6,33.9 452.8,33.8 453.0,33.8 453.2,33.8 453.4,33.8 453.6,33.8 453.8,33.7 454.0,33.7 454.2,33.7 454.4,33.7 454.6,33.6 454.7,33.6 454.9,33.6 455.1,33.6 455.3,33.5 455.5,33.5 455.7,33.5 455.9,33.4 456.1,33.4 456.2,33.4 456.4,33.4 456.6,33.3 456.8,33.3 457.0,33.3 457.1,33.3 457.3,33.2 457.5,33.2 457.7,33.2 457.9,33.1 458.0,33.1 458.2,33.1 458.4,33.0 458.6,33.0 458.7,33.0 458.9,32.9 459.1,32.9 459.3,32.9 459.4,32.9 459.6,32.8 459.8,32.8 460.0,32.8 460.1,32.7 460.3,32.7 460.5,32.7 460.6,32.6 460.8,32.6 461.0,32.6 461.2,32.5 461.3,32.5 461.5,32.4 461.7,32.4 461.8,32.4 462.0,32.3 462.2,32.3 462.3,32.3 462.5,32.2 462.7,32.2 462.9,32.2 463.0,32.1 463.2,32.1 463.4,32.1 463.5,32.0 463.7,32.0 463.9,32.0 464.0,31.9 464.2,31.9 464.4,31.9 464.5,31.8 464.7,31.8 464.9,31.7 465.0,31.7 465.2,31.7 465.4,31.6 465.5,31.6 465.7,31.6 465.9,31.5 466.1,31.5 466.2,31.5 466.4,31.4 466.6,31.4 466.7,31.4 466.9,31.3 467.1,31.3 467.3,31.3 467.4,31.2 467.6,31.2 467.7,31.5 467.9,31.7 468.0,32.0 468.2,32.2 468.3,32.5 468.4,32.7 468.6,32.9 468.7,33.2 468.9,33.4 469.0,33.7 469.1,33.9 469.3,34.2 469.4,34.4 469.6,34.6 469.7,34.9 469.8,35.1 470.0,35.4 470.1,35.6 470.3,35.8 470.4,36.1 470.5,36.3 470.7,36.6 470.8,36.8 471.0,37.0 471.1,37.3 471.2,37.5 471.4,37.7 471.5,38.0 471.6,38.2 471.8,38.5 471.9,38.7 472.1,38.9 472.2,39.2 472.3,39.4 472.5,39.7 472.6,39.9 472.8,40.1 472.9,40.4 473.0,40.6 473.2,40.9 473.3,41.1 473.5,41.4 473.6,41.6 473.7,41.9 473.9,42.1 474.0,42.4 474.2,42.6 474.3,42.9 474.4,43.1 474.6,43.4 474.7,43.6 474.9,43.9 475.0,44.2 475.2,44.4 475.3,44.7 475.4,45.0 475.6,45.3 475.7,45.5 475.9,45.8 476.0,46.1 476.2,46.4 476.3,46.6 476.5,46.9 476.6,47.2 476.8,47.5 476.9,47.8 477.1,48.1 477.2,48.4 477.4,48.7 477.5,49.0 477.6,49.3 477.8,49.6 478.0,49.9 478.1,50.3 478.3,50.6 478.4,50.9 478.6,51.2 478.7,51.6 478.9,51.9 479.0,52.3 479.2,52.6 479.3,52.9 479.5,53.3 479.6,53.7 479.8,54.0 479.9,54.4 480.1,54.7 480.3,55.1 480.4,55.5 480.6,55.8 480.7,56.2 480.9,56.6 481.1,56.9 481.2,57.3 481.4,57.7 481.5,58.1 481.7,58.4 481.8,58.8 482.0,59.2 482.2,59.6 482.3,60.0 482.5,60.3 482.6,60.7 482.8,61.1 483.0,61.5 483.1,61.9 483.3,62.3 483.4,62.6 483.6,63.0 483.8,63.4 483.9,63.8 484.1,64.2 484.2,64.5 484.4,64.9 484.6,65.3 484.7,65.7 484.9,66.0 485.0,66.4 485.2,66.8 485.4,67.2 485.5,67.5 485.7,67.9 485.8,68.3 486.0,68.6 486.2,69.0 486.3,69.3 486.5,69.7 486.6,70.0 486.8,70.4 486.9,70.7 487.1,71.1 487.3,71.4 487.4,71.8 487.6,72.1 487.7,72.4 487.9,72.7 488.0,73.1 488.2,73.4 488.3,73.7 488.5,74.0 488.7,74.3 488.8,74.6 489.0,74.9 489.1,75.2 489.3,75.5 489.4,75.8 489.6,76.1 489.7,76.4 489.9,76.7 490.0,77.0 490.2,77.2 490.3,77.5 490.5,77.8 490.6,78.1 490.8,78.4 490.9,78.6 491.1,78.9 491.2,79.2 491.4,79.4 491.5,79.7 491.7,80.0 491.8,80.2 492.0,80.5 492.1,80.8 492.3,81.0 492.4,81.3 492.6,81.5 492.7,81.8 492.9,82.1 493.0,82.3 493.2,82.6 493.3,82.8 493.5,83.1 493.6,83.3 493.8,83.6 493.9,83.8 494.0,84.1 494.2,84.3 494.3,84.5 494.5,84.8 494.6,85.0 494.8,85.3 494.9,85.5 495.1,85.8 495.2,86.0 495.4,86.2 495.5,86.5 495.7,86.7 495.8,87.0 496.0,87.2 496.1,87.4 496.3,87.7 496.4,87.9 496.6,88.2 496.7,88.4 496.9,88.6 497.0,88.9 497.2,89.1 497.3,89.4 497.5,89.6 497.6,89.8 497.8,90.1 497.9,90.3 498.1,90.6 498.2,90.8 498.4,91.0 498.5,91.3 498.7,91.5 498.8,91.8 499.0,92.0 499.2,92.2 499.3,92.5 499.5,92.7 499.6,93.0 499.8,93.2 499.9,93.5 500.1,93.7 500.2,93.9 500.4,94.2 500.5,94.4 500.7,94.7 500.8,94.9 501.0,95.1 501.2,95.4 501.3,95.6 501.5,95.9 501.6,96.1 501.8,96.3 501.9,96.6 502.1,96.8 502.2,97.0 502.4,97.3 502.5,97.5 502.7,97.7 502.9,98.0 503.0,98.2 503.2,98.5 503.3,98.7 503.5,98.9 503.6,99.2 503.8,99.4 503.9,99.6 504.1,99.9 504.3,100.1 504.4,100.3 504.6,100.5 504.7,100.8 504.9,101.0 505.0,101.2 505.2,101.5 505.3,101.7 505.5,101.9 505.7,102.1 505.8,102.4 506.0,102.6 506.1,102.8 506.3,103.0 506.5,103.3 506.6,103.5 506.8,103.7 506.9,103.9 507.1,104.1 507.2,104.4 507.4,104.6 507.6,104.8 507.7,105.0 507.9,105.2 508.0,105.5 508.2,105.7 508.4,105.9 508.5,106.1 508.7,106.3 508.9,106.5 509.0,106.7 509.2,107.0 509.3,107.2 509.5,107.4 509.7,107.6 509.8,107.8 510.0,108.0 510.2,108.2 510.3,108.4 510.5,108.6 510.7,108.8 510.8,109.0 511.0,109.2 511.2,109.4 511.3,109.6 511.5,109.8 511.7,110.0 511.8,110.2 512.0,110.4 512.2,110.6 512.3,110.8 512.5,111.0 512.7,111.2 512.8,111.4 513.0,111.6 513.2,111.8 513.3,112.0 513.5,112.2 513.7,112.4 513.8,112.6 514.0,112.8 514.2,113.0 514.3,113.2 514.5,113.4 514.7,113.5 514.9,113.7 515.0,113.9 515.2,114.1 515.4,114.3 515.5,114.5 515.7,114.7 515.9,114.9 516.0,115.0 516.2,115.2 516.4,115.4 516.6,115.6 516.7,115.8 516.9,116.0 517.1,116.1 517.3,116.3 517.4,116.5 517.6,116.7 517.8,116.9 517.9,117.0 518.1,117.2 518.3,117.4 518.5,117.6 518.6,117.7 518.8,117.9 519.0,118.1 519.2,118.3 519.3,118.4 519.5,118.6 519.7,118.8 519.9,119.0 520.0,119.1 520.2,119.3 520.4,119.5 520.6,119.7 520.8,119.8 520.9,120.0 521.1,120.2 521.3,120.3 521.5,120.5 521.6,120.7 521.8,120.8 522.0,121.0 522.2,121.2 522.4,121.3 522.5,121.5 522.7,121.7 522.9,121.8 523.1,122.0 523.3,122.1 523.4,122.3 523.6,122.5 523.8,122.6 524.0,122.8 524.2,122.9 524.4,123.1 524.5,123.2 524.7,123.4 524.9,123.5 525.1,123.7 525.3,123.8 525.5,124.0 525.6,124.1 525.8,124.3 526.0,124.4 526.2,124.6 526.4,124.7 526.6,124.9 526.8,125.0 526.9,125.2 527.1,125.3 527.3,125.5 527.5,125.6 527.7,125.7 527.9,125.9 528.1,126.0 528.3,126.2 528.4,126.3 528.6,126.5 528.8,126.6 529.0,126.7 529.2,126.9 529.4,127.0 529.6,127.2 529.8,127.3 529.9,127.5 530.1,127.6 530.3,127.7 530.5,127.9 530.7,128.0 530.9,128.2 531.1,128.3 531.3,128.4 531.4,128.6 531.6,128.7 531.8,128.9 532.0,129.0 532.2,129.1 532.4,129.3 532.6,129.4 532.8,129.6 532.9,129.7 533.1,129.9 533.3,130.0 533.5,130.1 533.7,130.3 533.9,130.4 534.1,130.6 534.3,130.7 534.4,130.9 534.6,131.0 534.8,131.2 535.0,131.3 452.5,172.0 452.3,171.8 452.2,171.7 452.0,171.5 451.8,171.3 451.7,171.2 451.5,171.0 451.4,170.8 451.2,170.7 451.0,170.5 450.9,170.3 450.7,170.2 450.5,170.0 450.4,169.8 450.2,169.7 450.0,169.5 449.9,169.3 449.7,169.2 449.6,169.0 449.4,168.9 449.2,168.7 449.1,168.5 448.9,168.4 448.7,168.2 448.6,168.0 448.4,167.9 448.3,167.7 448.1,167.6 447.9,167.4 447.8,167.2 447.6,167.1 447.4,166.9 447.3,166.7 447.1,166.6 446.9,166.4 446.8,166.2 446.6,166.1 446.5,165.9 446.3,165.8 446.1,165.6 446.0,165.4 445.8,165.3 445.6,165.1 445.5,164.9 445.3,164.8 445.1,164.6 445.0,164.4 444.8,164.2 444.7,164.1 444.5,163.9 444.3,163.7 444.2,163.5 444.0,163.4 443.8,163.2 443.7,163.0 443.5,162.8 443.3,162.7 443.2,162.5 443.0,162.3 442.8,162.1 442.7,161.9 442.5,161.7 442.3,161.6 442.2,161.4 442.0,161.2 441.8,161.0 441.7,160.8 441.5,160.6 441.3,160.4 441.2,160.2 441.0,160.0 440.8,159.8 440.7,159.6 440.5,159.4 440.3,159.2 440.2,159.0 440.0,158.8 439.8,158.6 439.6,158.4 439.5,158.2 439.3,158.0 439.1,157.8 439.0,157.6 438.8,157.4 438.6,157.1 438.5,156.9 438.3,156.7 438.1,156.5 437.9,156.3 437.8,156.1 437.6,155.9 437.4,155.7 437.2,155.5 437.1,155.2 436.9,155.0 436.7,154.8 436.6,154.6 436.4,154.4 436.2,154.2 436.0,153.9 435.9,153.7 435.7,153.5 435.5,153.3 435.3,153.0 435.2,152.8 435.0,152.6 434.8,152.4 434.7,152.1 434.5,151.9 434.3,151.7 434.1,151.5 434.0,151.2 433.8,151.0 433.6,150.8 433.4,150.5 433.3,150.3 433.1,150.0 432.9,149.8 432.8,149.6 432.6,149.3 432.4,149.1 432.2,148.8 432.1,148.6 431.9,148.4 431.7,148.1 431.5,147.9 431.4,147.6 431.2,147.4 431.0,147.1 430.9,146.9 430.7,146.6 430.5,146.4 430.4,146.1 430.2,145.8 430.0,145.6 429.8,145.3 429.7,145.1 429.5,144.8 429.3,144.5 429.2,144.3 429.0,144.0 428.8,143.7 428.7,143.5 428.5,143.2 428.3,142.9 428.2,142.7 428.0,142.4 427.8,142.1 427.7,141.8 427.5,141.6 427.3,141.3 427.2,141.0 427.0,140.7 426.9,140.4 426.7,140.2 426.5,139.9 426.4,139.6 426.2,139.3 426.1,139.0 425.9,138.7 425.7,138.5 425.6,138.2 425.4,137.9 425.3,137.6 425.1,137.3 424.9,137.0 424.8,136.7 424.6,136.4 424.5,136.1 424.3,135.8 424.1,135.5 424.0,135.2 423.8,134.9 423.7,134.6 423.5,134.3 423.3,134.0 423.2,133.7 423.0,133.4 422.9,133.1 422.7,132.8 422.5,132.5 422.4,132.2 422.2,131.9 422.1,131.6 421.9,131.2 421.7,130.9 421.6,130.6 421.4,130.3 421.2,130.0 421.1,129.6 420.9,129.3 420.8,129.0 420.6,128.7 420.4,128.3 420.3,128.0 420.1,127.7 419.9,127.3 419.8,127.0 419.6,126.7 419.4,126.3 419.2,126.0 419.1,125.6 418.9,125.3 418.7,125.0 418.6,124.6 418.4,124.3 418.2,123.9 418.0,123.6 417.9,123.2 417.7,122.9 417.5,122.5 417.3,122.1 417.1,121.8 417.0,121.4 416.8,121.1 416.6,120.7 416.4,120.3 416.2,119.9 416.0,119.6 415.9,119.2 415.7,118.8 415.5,118.4 415.3,118.1 415.1,117.7 414.9,117.3 414.7,116.9 414.5,116.5 414.3,116.1 414.1,115.7 413.9,115.3 413.7,114.9 413.5,114.5 413.4,114.1 413.2,113.7 413.0,113.3 412.8,112.9 412.6,112.5 412.4,112.1 412.2,111.7 412.0,111.3 411.8,110.9 411.6,110.5 411.4,110.1 411.2,109.7 411.0,109.3 410.8,108.8 410.6,108.4 410.4,108.0 410.2,107.6 410.0,107.2 409.8,106.8 409.6,106.3 409.4,105.9 409.2,105.5 409.0,105.1 408.8,104.7 408.6,104.2 408.4,103.8 408.2,103.4 408.0,103.0 407.8,102.5 407.6,102.1 407.4,101.7 407.2,101.3 407.0,100.8 406.8,100.4 406.6,100.0 406.4,99.5 406.3,99.1 406.1,98.7 405.9,98.3 405.7,97.8 405.5,97.4 405.3,97.0 405.1,96.6 404.9,96.1 404.7,95.7 404.6,95.3 404.4,94.9 404.2,94.4 404.0,94.0 403.8,93.6 403.6,93.1 403.5,92.7 403.3,92.3 403.1,91.9 402.9,91.4 402.7,91.0 402.6,90.6 402.4,90.1 402.2,89.7 402.0,89.2 401.8,88.8 401.7,88.4 401.5,87.9 401.3,87.5 401.1,87.0 401.0,86.6 400.8,86.1 400.6,85.7 400.4,85.3 400.3,84.8 400.1,84.4 399.9,83.9 399.8,83.5 399.6,83.0 399.4,82.6 399.2,82.1 399.1,81.7 398.9,81.2 398.7,80.8 398.6,80.3 398.4,79.9 398.2,79.4 398.0,79.0 397.9,78.5 397.7,78.0 397.5,77.6 397.4,77.1 397.2,76.7 397.0,76.2 396.9,75.8 396.7,75.3 396.5,74.9 396.4,74.4 396.2,74.0 396.0,73.5 395.9,73.1 395.7,72.6 395.5,72.2 395.3,71.7 395.2,71.3 395.0,70.9 394.8,70.4 394.7,70.0 394.5,69.5 394.3,69.1 394.2,68.6 394.0,68.2 393.8,67.8 393.7,67.3 393.5,66.9 393.3,66.4 393.2,66.0 393.0,65.6 392.8,65.1 392.7,64.7 392.5,64.3 392.3,63.9 392.2,63.4 392.0,63.0 391.8,62.6 391.7,62.2 391.5,61.7 391.3,61.3 391.2,60.9 391.0,60.5 390.8,60.0 390.7,59.6 390.5,59.2 390.3,58.8 390.2,58.4 390.0,58.0 389.8,57.6 389.7,57.1 389.5,56.7 389.3,56.3 389.2,55.9 389.0,55.5 388.8,55.1 388.7,54.7 388.5,54.3 388.3,53.9 388.2,53.5 388.0,53.0 387.9,52.6 387.7,52.2 387.5,51.8 387.4,51.4 387.2,51.0 387.0,50.6 386.9,50.2 386.7,49.8 386.5,49.4 386.4,49.0 386.2,48.6 386.1,48.2 385.9,47.8 385.7,47.4 385.6,47.0 385.4,46.6 385.2,46.2 385.1,45.8 384.9,45.4 384.7,45.0 384.6,44.6 384.4,44.2 384.3,43.8 384.1,43.4 383.9,43.0 383.8,42.6 383.6,42.2 383.4,41.8 383.3,41.4 383.1,41.0 383.0,40.6 382.8,40.2 382.6,39.8 382.5,39.4 382.3,39.0 382.1,38.5 382.0,38.1 381.8,37.7 381.6,37.3 381.5,36.9 381.3,36.5 381.2,36.1 381.0,35.7 380.8,35.3 380.7,34.9 380.5,34.5" fill="#ff0000" stroke="#ff0000" stroke-width="0.4" stroke-linejoin="round"/>
<path d="M396.5 32.5 L398.1 36.3 L399.6 40.1 L401.2 43.9 L402.7 47.7 L404.3 51.5 L405.9 55.4 L407.5 59.5 L409.1 63.6 L410.7 68.0 L412.3 72.4 L414.0 76.8 L415.7 81.2 L417.4 85.5 L419.1 89.7 L420.8 93.8 L422.7 97.8 L424.5 101.8 L426.4 105.7 L428.3 109.5 L430.1 113.2 L431.8 116.7 L433.5 120.0 L435.1 123.2 L436.7 126.3 L438.2 129.3 L439.8 132.1 L441.4 134.9 L443.0 137.5 L444.6 140.1 L446.3 142.5 L448.0 144.8 L449.7 147.0 L451.4 149.2 L453.1 151.3 L454.7 153.3 L456.4 155.2 L458.1 157.0 L459.7 158.6 L461.3 160.3 L463.0 161.9 L464.6 163.5 L466.2 165.2 M412.5 34.0 L414.0 37.5 L415.5 41.0 L417.0 44.4 L418.4 47.9 L419.9 51.4 L421.4 55.1 L423.0 58.8 L424.5 62.8 L426.1 66.9 L427.7 71.1 L429.3 75.4 L430.9 79.6 L432.5 83.8 L434.1 87.7 L435.8 91.5 L437.5 95.3 L439.3 99.0 L441.0 102.5 L442.8 106.0 L444.5 109.4 L446.2 112.6 L447.8 115.7 L449.3 118.7 L450.8 121.6 L452.4 124.4 L453.9 127.1 L455.4 129.7 L457.0 132.2 L458.6 134.6 L460.2 136.9 L461.9 139.1 L463.5 141.2 L465.2 143.2 L466.8 145.2 L468.5 147.1 L470.1 148.9 L471.8 150.6 L473.4 152.2 L475.1 153.8 L476.7 155.3 L478.4 156.8 L480.0 158.4 M427.5 34.7 L428.9 37.9 L430.4 41.1 L431.8 44.2 L433.2 47.4 L434.7 50.7 L436.1 54.0 L437.6 57.5 L439.1 61.3 L440.7 65.2 L442.2 69.3 L443.8 73.4 L445.4 77.5 L447.0 81.5 L448.6 85.2 L450.2 88.8 L451.8 92.3 L453.5 95.6 L455.1 98.9 L456.8 102.1 L458.4 105.2 L460.0 108.2 L461.5 111.1 L463.1 113.9 L464.6 116.6 L466.1 119.2 L467.6 121.8 L469.1 124.2 L470.6 126.6 L472.2 128.9 L473.9 131.1 L475.5 133.2 L477.1 135.2 L478.8 137.1 L480.4 139.0 L482.1 140.8 L483.7 142.5 L485.4 144.2 L487.1 145.7 L488.7 147.2 L490.4 148.7 L492.1 150.1 L493.8 151.7 M441.5 34.8 L442.9 37.7 L444.3 40.6 L445.7 43.5 L447.1 46.4 L448.5 49.4 L450.0 52.5 L451.4 55.7 L452.9 59.3 L454.5 63.1 L456.0 67.0 L457.6 71.0 L459.2 75.0 L460.7 78.8 L462.3 82.3 L463.9 85.7 L465.4 88.9 L467.0 91.9 L468.6 94.9 L470.2 97.8 L471.7 100.6 L473.3 103.4 L474.8 106.1 L476.4 108.8 L477.9 111.3 L479.4 113.8 L480.9 116.2 L482.4 118.6 L484.0 120.8 L485.6 123.0 L487.2 125.1 L488.8 127.1 L490.5 129.0 L492.1 130.9 L493.8 132.7 L495.5 134.4 L497.2 136.1 L498.9 137.6 L500.6 139.1 L502.3 140.6 L504.1 142.0 L505.8 143.4 L507.5 144.9 M455.5 33.5 L456.9 36.2 L458.3 38.8 L459.6 41.4 L461.0 44.1 L462.4 46.8 L463.8 49.7 L465.3 52.8 L466.8 56.2 L468.3 59.9 L469.8 63.7 L471.4 67.6 L472.9 71.4 L474.5 75.1 L476.0 78.5 L477.5 81.6 L479.1 84.6 L480.6 87.4 L482.1 90.1 L483.6 92.8 L485.1 95.4 L486.6 98.0 L488.1 100.5 L489.6 103.0 L491.1 105.5 L492.7 107.8 L494.2 110.2 L495.7 112.4 L497.3 114.6 L498.9 116.7 L500.5 118.7 L502.2 120.6 L503.8 122.5 L505.5 124.3 L507.2 126.1 L508.9 127.8 L510.6 129.4 L512.4 130.9 L514.1 132.4 L515.9 133.8 L517.7 135.2 L519.5 136.6 L521.2 138.1 M392.0 63.0 L394.2 62.5 L396.4 61.9 L398.6 61.3 L400.8 60.8 L403.1 60.3 L405.3 59.8 L407.5 59.5 L409.7 59.2 L411.9 59.1 L414.2 59.0 L416.4 59.0 L418.6 59.0 L420.8 58.9 L423.0 58.8 L425.1 58.7 L427.2 58.5 L429.4 58.4 L431.4 58.2 L433.5 58.0 L435.6 57.8 L437.6 57.5 L439.6 57.3 L441.6 57.1 L443.6 56.9 L445.6 56.6 L447.5 56.4 L449.5 56.1 L451.4 55.7 L453.4 55.4 L455.4 55.0 L457.5 54.6 L459.5 54.2 L461.4 53.7 L463.4 53.3 L465.3 52.8 L467.1 52.3 L468.9 51.8 L470.6 51.2 L472.3 50.7 L474.1 50.1 L475.8 49.5 L477.5 49.0 M404.0 94.0 L406.2 93.4 L408.3 92.7 L410.5 92.0 L412.6 91.4 L414.8 90.8 L416.9 90.2 L419.1 89.7 L421.2 89.3 L423.4 89.0 L425.6 88.7 L427.7 88.5 L429.9 88.3 L432.0 88.0 L434.1 87.7 L436.2 87.4 L438.3 87.1 L440.4 86.7 L442.5 86.4 L444.5 86.0 L446.5 85.6 L448.6 85.2 L450.5 84.8 L452.5 84.5 L454.5 84.1 L456.4 83.7 L458.4 83.2 L460.3 82.8 L462.3 82.3 L464.3 81.8 L466.3 81.3 L468.2 80.8 L470.2 80.2 L472.2 79.7 L474.1 79.1 L476.0 78.5 L477.9 77.9 L479.7 77.3 L481.5 76.6 L483.2 76.0 L485.0 75.3 L486.7 74.6 L488.5 74.0 M417.5 122.5 L419.5 121.7 L421.6 120.8 L423.6 119.9 L425.7 119.1 L427.7 118.2 L429.8 117.4 L431.8 116.7 L433.9 116.0 L435.9 115.4 L438.0 114.9 L440.0 114.3 L442.1 113.8 L444.1 113.2 L446.2 112.6 L448.2 112.0 L450.2 111.4 L452.1 110.8 L454.1 110.1 L456.1 109.5 L458.0 108.8 L460.0 108.2 L461.9 107.5 L463.8 106.9 L465.7 106.2 L467.6 105.5 L469.5 104.8 L471.4 104.1 L473.3 103.4 L475.2 102.7 L477.1 101.9 L479.1 101.2 L481.0 100.4 L482.9 99.6 L484.8 98.8 L486.6 98.0 L488.4 97.1 L490.2 96.3 L492.0 95.4 L493.7 94.6 L495.5 93.7 L497.2 92.9 L499.0 92.0 M429.0 144.0 L431.0 143.1 L433.0 142.1 L435.0 141.2 L437.0 140.2 L439.0 139.3 L441.0 138.4 L443.0 137.5 L445.0 136.7 L447.0 135.9 L449.0 135.2 L451.0 134.4 L453.0 133.7 L455.0 133.0 L457.0 132.2 L459.0 131.4 L460.9 130.6 L462.9 129.8 L464.8 129.0 L466.8 128.2 L468.7 127.4 L470.6 126.6 L472.6 125.8 L474.5 125.0 L476.4 124.2 L478.3 123.4 L480.2 122.5 L482.1 121.7 L484.0 120.8 L485.9 120.0 L487.8 119.1 L489.7 118.2 L491.6 117.3 L493.5 116.4 L495.4 115.5 L497.3 114.6 L499.2 113.7 L501.0 112.7 L502.8 111.8 L504.6 110.8 L506.4 109.9 L508.2 108.9 L510.0 108.0 M441.0 160.0 L443.0 159.0 L444.9 158.1 L446.9 157.1 L448.9 156.1 L450.8 155.1 L452.8 154.2 L454.7 153.3 L456.7 152.3 L458.7 151.5 L460.6 150.6 L462.6 149.7 L464.6 148.9 L466.5 148.0 L468.5 147.1 L470.4 146.2 L472.4 145.3 L474.3 144.4 L476.3 143.5 L478.2 142.6 L480.1 141.7 L482.1 140.8 L484.0 139.9 L485.9 139.0 L487.8 138.1 L489.7 137.2 L491.7 136.3 L493.6 135.3 L495.5 134.4 L497.4 133.5 L499.3 132.5 L501.3 131.6 L503.2 130.7 L505.1 129.7 L507.0 128.7 L508.9 127.8 L510.8 126.8 L512.7 125.9 L514.5 124.9 L516.4 123.9 L518.3 122.9 L520.1 122.0 L522.0 121.0" fill="none" stroke="#f47870" stroke-width="0.5"/>
<polyline points="381.0,34.4 387.0,126.0" fill="none" stroke="#333" stroke-width="0.7"/>
<polyline points="387.0,126.0 452.0,179.6 535.4,135.5" fill="none" stroke="#333" stroke-width="0.7"/>
<polyline points="378.9,35.3 381.0,34.6" fill="none" stroke="#333" stroke-width="0.7"/>
<text transform="matrix(0.9434 -0.3317 0.1767 1.0654 376.67 36.13)" x="0" y="2.05" class="b" font-size="6.2" text-anchor="end">2.4</text>
<polyline points="379.9,49.6 381.9,48.9" fill="none" stroke="#333" stroke-width="0.7"/>
<text transform="matrix(0.9434 -0.3317 0.1767 1.0654 377.61 50.43)" x="0" y="2.05" class="b" font-size="6.2" text-anchor="end">2.2</text>
<polyline points="380.8,63.8 382.9,63.1" fill="none" stroke="#333" stroke-width="0.7"/>
<text transform="matrix(0.9434 -0.3317 0.1767 1.0654 378.54 64.63)" x="0" y="2.05" class="b" font-size="6.2" text-anchor="end">2.0</text>
<polyline points="381.7,77.7 383.8,77.0" fill="none" stroke="#333" stroke-width="0.7"/>
<text transform="matrix(0.9434 -0.3317 0.1767 1.0654 379.45 78.53)" x="0" y="2.05" class="b" font-size="6.2" text-anchor="end">1.8</text>
<polyline points="382.6,90.5 384.6,89.8" fill="none" stroke="#333" stroke-width="0.7"/>
<text transform="matrix(0.9434 -0.3317 0.1767 1.0654 380.29 91.33)" x="0" y="2.05" class="b" font-size="6.2" text-anchor="end">1.6</text>
<polyline points="383.3,102.6 385.4,101.9" fill="none" stroke="#333" stroke-width="0.7"/>
<text transform="matrix(0.9434 -0.3317 0.1767 1.0654 381.08 103.43)" x="0" y="2.05" class="b" font-size="6.2" text-anchor="end">1.4</text>
<polyline points="384.2,115.4 386.3,114.7" fill="none" stroke="#333" stroke-width="0.7"/>
<text transform="matrix(0.9434 -0.3317 0.1767 1.0654 381.92 116.23)" x="0" y="2.05" class="b" font-size="6.2" text-anchor="end">1.2</text>
<text transform="matrix(0.1093 0.9940 -0.9434 0.3317 361.30 54.50)" x="0" y="0.00" class="b" font-size="7.25" text-anchor="start">Shape function <tspan dx="1.8">K</tspan><tspan dx="0.8" font-weight="normal" font-size="6.2">(T)</tspan></text>
<polyline points="400.0,136.7 397.8,137.8" fill="none" stroke="#333" stroke-width="0.7"/>
<text transform="matrix(0.8840 -0.4674 0.8487 0.6998 391.50 140.52)" x="0" y="1.91" class="b" font-size="5.8" text-anchor="middle">0.2</text>
<polyline points="413.0,147.4 410.8,148.5" fill="none" stroke="#333" stroke-width="0.7"/>
<text transform="matrix(0.8840 -0.4674 0.8487 0.6998 404.50 151.24)" x="0" y="1.91" class="b" font-size="5.8" text-anchor="middle">0.4</text>
<polyline points="426.0,158.2 423.8,159.3" fill="none" stroke="#333" stroke-width="0.7"/>
<text transform="matrix(0.8840 -0.4674 0.8487 0.6998 417.50 161.96)" x="0" y="1.91" class="b" font-size="5.8" text-anchor="middle">0.6</text>
<polyline points="439.0,168.9 436.8,170.0" fill="none" stroke="#333" stroke-width="0.7"/>
<text transform="matrix(0.8840 -0.4674 0.8487 0.6998 430.50 172.68)" x="0" y="1.91" class="b" font-size="5.8" text-anchor="middle">0.8</text>
<polyline points="452.0,179.6 449.8,180.7" fill="none" stroke="#333" stroke-width="0.7"/>
<text transform="matrix(0.8840 -0.4674 0.8487 0.6998 443.50 183.40)" x="0" y="1.91" class="b" font-size="5.8" text-anchor="middle">1.0</text>
<polyline points="452.0,179.6 453.7,181.0" fill="none" stroke="#333" stroke-width="0.7"/>
<text transform="matrix(0.7715 0.6362 -0.9724 0.5142 458.50 184.90)" x="0" y="1.91" class="b" font-size="5.8" text-anchor="middle">0.0</text>
<polyline points="468.7,170.8 470.4,172.2" fill="none" stroke="#333" stroke-width="0.7"/>
<text transform="matrix(0.7715 0.6362 -0.9724 0.5142 475.18 176.08)" x="0" y="1.91" class="b" font-size="5.8" text-anchor="middle">0.2</text>
<polyline points="485.4,162.0 487.1,163.4" fill="none" stroke="#333" stroke-width="0.7"/>
<text transform="matrix(0.7715 0.6362 -0.9724 0.5142 491.86 167.26)" x="0" y="1.91" class="b" font-size="5.8" text-anchor="middle">0.4</text>
<polyline points="502.0,153.1 503.7,154.5" fill="none" stroke="#333" stroke-width="0.7"/>
<text transform="matrix(0.7715 0.6362 -0.9724 0.5142 508.54 158.44)" x="0" y="1.91" class="b" font-size="5.8" text-anchor="middle">0.6</text>
<polyline points="518.7,144.3 520.4,145.7" fill="none" stroke="#333" stroke-width="0.7"/>
<text transform="matrix(0.7715 0.6362 -0.9724 0.5142 525.22 149.62)" x="0" y="1.91" class="b" font-size="5.8" text-anchor="middle">0.8</text>
<polyline points="535.4,135.5 537.1,136.9" fill="none" stroke="#333" stroke-width="0.7"/>
<text transform="matrix(0.7715 0.6362 -0.9724 0.5142 541.90 140.80)" x="0" y="1.91" class="b" font-size="5.8" text-anchor="middle">1.0</text>
<text transform="matrix(0.7325 0.6807 -1.0166 0.5376 375.60 140.40)" x="0" y="0.00" class="b" font-size="6.2" text-anchor="start">Physiological qualities ξ3</text>
<text transform="matrix(0.8763 -0.4818 0.8487 0.6998 478.90 188.40)" x="0" y="0.00" class="b" font-size="7.3" text-anchor="start">Knowledge and skills ξ1</text>
<text x="294.6" y="57.9" class="lb" font-size="8.35">Psychological qua-</text>
<text x="294.6" y="68.5" class="lb" font-size="8.35">lity level is "poor"</text>
<polyline points="327.6,51.0 327.6,40.2 381.5,40.2" fill="none" stroke="#4a4a4a" stroke-width="0.8"/>
<text x="294.0" y="95.6" class="lb" font-size="8.35">Psychological quali-</text>
<text x="294.0" y="106.3" class="lb" font-size="8.35">ty level is "average"</text>
<polyline points="328.8,89.0 328.8,78.6 388.0,78.6" fill="none" stroke="#4a4a4a" stroke-width="0.8"/>
<text x="295.4" y="135.4" class="lb" font-size="8.35">Psychological quali-</text>
<text x="295.4" y="146.0" class="lb" font-size="8.35">ty level is "excellent"</text>
<polyline points="329.4,128.5 329.4,117.6 406.0,117.6" fill="none" stroke="#4a4a4a" stroke-width="0.8"/>
<text x="419" y="207.2" class="cap" text-anchor="middle">(<tspan font-weight="bold">b</tspan>)</text>
<path d="M177.8 235.9 L183.2 332.5 M195.4 230.6 L199.8 326.6 M212.0 225.5 L215.7 321.0 M228.7 220.5 L231.6 315.4 M245.0 215.6 L247.0 310.0 M159.4 241.4 L245.0 215.6 M160.4 256.8 L245.3 230.5 M161.4 271.6 L245.6 245.0 M162.3 286.0 L245.9 258.9 M163.2 300.0 L246.2 272.5 M164.2 314.9 L246.5 287.0 M165.1 328.6 L246.8 300.3" fill="none" stroke="#dedede" stroke-width="0.7"/>
<path d="M258.0 220.8 L258.7 315.7 M272.8 226.7 L272.2 322.3 M287.8 232.7 L285.8 328.9 M303.3 238.9 L299.8 335.7 M321.2 246.0 L316.0 343.6 M245.0 215.6 L321.2 246.0 M245.3 230.5 L320.4 261.4 M245.6 245.0 L319.6 276.4 M245.9 258.9 L318.8 290.8 M246.2 272.5 L318.1 304.9 M246.5 287.0 L317.3 319.8 M246.8 300.3 L316.5 333.5" fill="none" stroke="#dedede" stroke-width="0.7"/>
<path d="M182.0 332.9 L250.8 377.5 M198.2 327.2 L267.1 369.0 M214.5 321.4 L283.4 360.6 M230.7 315.7 L299.7 352.1 M179.5 348.1 L260.8 316.7 M193.2 357.6 L274.6 323.4 M207.0 367.0 L288.4 330.2 M220.7 376.5 L302.2 336.9" fill="none" stroke="#dedede" stroke-width="0.7"/>
<polygon points="166.0,339.5 208.0,315.0 246.0,295.0 300.0,280.0 311.5,276.5 319.5,276.5 314.0,286.0 309.0,293.0 301.0,305.5 294.0,318.0 287.0,329.0 275.0,347.0 263.0,357.0 253.0,367.0 243.0,374.5 234.0,380.0 204.0,364.0 166.0,339.5" fill="#00ff00" stroke="#00ff00" stroke-width="0.4" stroke-linejoin="round"/>
<polygon points="166.0,339.0 208.0,312.0 246.0,285.0 300.0,270.0 312.5,264.3 319.5,263.5 315.0,270.0 311.5,276.5 305.0,288.0 297.0,305.0 290.0,319.0 282.0,332.0 271.0,347.0 255.0,364.5 244.0,373.3 234.5,378.3 204.0,362.5 166.0,339.0" fill="#404040" stroke="#404040" stroke-width="0.4" stroke-linejoin="round"/>
<polygon points="166.0,338.0 180.0,330.0 195.0,320.5 208.0,310.0 221.0,296.0 232.5,279.0 245.5,266.2 245.7,266.2 245.8,266.3 246.0,266.3 246.2,266.4 246.4,266.4 246.5,266.4 246.7,266.5 246.9,266.5 247.1,266.6 247.2,266.6 247.4,266.7 247.6,266.7 247.8,266.8 247.9,266.8 248.1,266.9 248.3,266.9 248.5,267.0 248.6,267.0 248.8,267.1 249.0,267.1 249.2,267.2 249.3,267.2 249.5,267.3 249.7,267.3 249.9,267.4 250.0,267.4 250.2,267.5 250.4,267.5 250.6,267.6 250.7,267.6 250.9,267.7 251.1,267.7 251.3,267.8 251.4,267.8 251.6,267.8 251.8,267.9 252.0,267.9 252.1,268.0 252.3,268.0 252.5,268.0 252.7,268.1 252.8,268.1 253.0,268.2 253.2,268.2 253.4,268.2 253.5,268.3 253.7,268.3 253.9,268.3 254.1,268.3 254.2,268.4 254.4,268.4 254.6,268.4 254.8,268.4 254.9,268.4 255.1,268.5 255.3,268.5 255.5,268.5 255.6,268.5 255.8,268.5 256.0,268.5 256.2,268.5 256.4,268.5 256.5,268.5 256.7,268.5 256.9,268.5 257.1,268.5 257.2,268.5 257.4,268.5 257.6,268.5 257.8,268.4 257.9,268.4 258.1,268.4 258.3,268.4 258.5,268.4 258.6,268.4 258.8,268.3 259.0,268.3 259.2,268.3 259.3,268.3 259.5,268.2 259.7,268.2 259.9,268.2 260.0,268.2 260.2,268.1 260.4,268.1 260.6,268.1 260.8,268.0 260.9,268.0 261.1,268.0 261.3,267.9 261.5,267.9 261.6,267.8 261.8,267.8 262.0,267.8 262.2,267.7 262.3,267.7 262.5,267.6 262.7,267.6 262.9,267.6 263.1,267.5 263.2,267.5 263.4,267.4 263.6,267.4 263.8,267.3 264.0,267.3 264.1,267.2 264.3,267.2 264.5,267.2 264.7,267.1 264.9,267.1 265.0,267.0 265.2,267.0 265.4,266.9 265.6,266.9 265.8,266.8 266.0,266.8 266.1,266.7 266.3,266.7 266.5,266.6 266.7,266.6 266.9,266.6 267.1,266.5 267.3,266.5 267.5,266.4 267.6,266.4 267.8,266.3 268.0,266.3 268.2,266.2 268.4,266.2 268.6,266.1 268.8,266.0 269.0,266.0 269.2,265.9 269.4,265.9 269.6,265.8 269.8,265.8 270.0,265.7 270.2,265.7 270.4,265.6 270.6,265.5 270.8,265.5 271.0,265.4 271.2,265.4 271.4,265.3 271.6,265.2 271.8,265.2 272.0,265.1 272.2,265.1 272.4,265.0 272.6,264.9 272.8,264.9 273.0,264.8 273.2,264.7 273.4,264.7 273.5,264.6 273.7,264.6 273.9,264.5 274.1,264.4 274.3,264.4 274.5,264.3 274.7,264.2 274.9,264.2 275.1,264.1 275.3,264.0 275.5,264.0 275.7,263.9 275.9,263.8 276.1,263.8 276.3,263.7 276.5,263.6 276.6,263.6 276.8,263.5 277.0,263.4 277.2,263.4 277.4,263.3 277.6,263.3 277.8,263.2 277.9,263.1 278.1,263.1 278.3,263.0 278.5,262.9 278.7,262.9 278.8,262.8 279.0,262.7 279.2,262.7 279.4,262.6 279.5,262.6 279.7,262.5 279.9,262.4 280.0,262.4 280.2,262.3 280.4,262.2 280.5,262.2 280.7,262.1 280.9,262.1 281.0,262.0 281.2,261.9 281.4,261.9 281.5,261.8 281.7,261.7 281.9,261.7 282.0,261.6 282.2,261.6 282.3,261.5 282.5,261.4 282.7,261.4 282.8,261.3 283.0,261.2 283.2,261.2 283.3,261.1 283.5,261.0 283.6,261.0 283.8,260.9 283.9,260.9 284.1,260.8 284.3,260.7 284.4,260.7 284.6,260.6 284.7,260.5 284.9,260.5 285.1,260.4 285.2,260.3 285.4,260.2 285.5,260.2 285.7,260.1 285.9,260.0 286.0,260.0 286.2,259.9 286.3,259.8 286.5,259.8 286.6,259.7 286.8,259.6 287.0,259.5 287.1,259.5 287.3,259.4 287.5,259.3 287.6,259.2 287.8,259.2 287.9,259.1 288.1,259.0 288.3,258.9 288.4,258.8 288.6,258.8 288.8,258.7 288.9,258.6 289.1,258.5 289.2,258.4 289.4,258.3 289.6,258.3 289.7,258.2 289.9,258.1 290.1,258.0 290.2,257.9 290.4,257.8 290.6,257.7 290.7,257.7 290.9,257.6 291.0,257.5 291.2,257.4 291.4,257.3 291.5,257.2 291.7,257.1 291.9,257.0 292.0,256.9 292.2,256.8 292.3,256.7 292.5,256.6 292.7,256.6 292.8,256.5 293.0,256.4 293.2,256.3 293.3,256.2 293.5,256.1 293.7,256.0 293.8,255.9 294.0,255.8 294.1,255.7 294.3,255.6 294.5,255.5 294.6,255.4 294.8,255.3 295.0,255.2 295.1,255.1 295.3,255.1 295.4,255.0 295.6,254.9 295.8,254.8 295.9,254.7 296.1,254.6 296.3,254.5 296.4,254.4 296.6,254.3 296.8,254.2 296.9,254.1 297.1,254.0 297.2,254.0 297.4,253.9 297.6,253.8 297.7,253.7 297.9,253.6 298.1,253.5 298.2,253.4 298.4,253.3 298.5,253.2 298.7,253.2 298.9,253.1 299.0,253.0 299.2,252.9 299.3,252.8 299.5,252.7 299.6,252.6 299.8,252.5 299.9,252.4 300.1,252.3 300.3,252.2 300.4,252.1 300.6,252.0 300.7,252.0 300.9,251.9 301.0,251.8 301.2,251.7 301.3,251.6 301.5,251.5 301.6,251.4 301.8,251.3 301.9,251.2 302.1,251.1 302.2,251.0 302.4,250.9 302.5,250.8 302.7,250.7 302.9,250.7 303.0,250.6 303.2,250.5 303.3,250.4 303.5,250.3 303.7,250.2 303.8,250.1 304.0,250.0 304.1,250.0 304.3,249.9 304.5,249.8 304.6,249.7 304.8,249.6 305.0,249.5 305.1,249.5 305.3,249.4 305.5,249.3 305.7,249.2 305.8,249.2 306.0,249.1 306.2,249.0 306.4,249.0 306.6,248.9 306.7,248.8 306.9,248.7 307.1,248.7 307.3,248.6 307.5,248.6 307.7,248.5 307.9,248.4 308.1,248.4 308.3,248.3 308.5,248.3 308.7,248.2 308.9,248.2 309.1,248.1 309.3,248.1 309.6,248.0 309.8,248.0 310.0,247.9 310.2,247.9 310.4,247.9 310.6,247.8 310.9,247.8 311.1,247.7 311.3,247.7 311.5,247.7 311.8,247.6 312.0,247.6 312.2,247.6 312.5,247.5 312.7,247.5 312.9,247.5 313.2,247.4 313.4,247.4 313.6,247.4 313.9,247.4 314.1,247.3 314.4,247.3 314.6,247.3 314.8,247.3 315.1,247.2 315.3,247.2 315.5,247.2 315.8,247.2 316.0,247.1 316.3,247.1 316.5,247.1 316.8,247.1 317.0,247.0 317.2,247.0 317.5,247.0 317.7,247.0 318.0,246.9 318.2,246.9 318.4,246.9 318.7,246.9 318.9,246.8 319.2,246.8 319.4,246.8 319.6,246.7 319.9,246.7 320.1,246.7 320.3,246.7 320.6,246.6 320.8,246.6 321.0,246.6 321.3,246.5 321.5,246.5 311.6,265.0 308.3,270.0 302.6,283.0 298.6,295.0 294.0,305.0 288.0,317.0 280.0,330.0 268.0,347.0 264.0,352.0 253.0,364.0 243.0,372.0 234.5,377.0 220.0,369.8 204.0,361.5 166.0,338.0" fill="#900000" stroke="#900000" stroke-width="0.4" stroke-linejoin="round"/>
<path d="M179.5 330.3 L181.1 331.3 L182.8 332.4 L184.5 333.4 L186.1 334.4 L187.8 335.4 L189.5 336.4 L191.1 337.3 L192.8 338.2 L194.5 339.2 L196.2 340.1 L197.8 340.9 L199.5 341.8 L201.2 342.7 L202.9 343.6 L204.6 344.5 L206.3 345.3 L208.0 346.2 L209.7 347.1 L211.4 347.9 L213.0 348.8 L214.7 349.7 L216.3 350.5 L218.0 351.4 L219.6 352.2 L221.3 352.9 L223.0 353.7 L224.8 354.4 L226.5 355.1 L228.2 355.8 L229.9 356.5 L231.6 357.3 L233.3 358.0 L235.0 358.7 L236.7 359.4 L238.4 360.1 L240.2 360.8 L242.0 361.6 L243.8 362.4 L245.6 363.1 L247.5 363.9 L249.3 364.7 L251.1 365.5 M192.6 322.0 L194.1 323.2 L195.7 324.3 L197.3 325.4 L198.8 326.5 L200.4 327.6 L202.0 328.6 L203.6 329.6 L205.1 330.5 L206.7 331.4 L208.3 332.3 L209.9 333.1 L211.5 334.0 L213.1 334.8 L214.7 335.6 L216.4 336.5 L218.0 337.3 L219.6 338.1 L221.2 338.9 L222.8 339.7 L224.4 340.5 L225.9 341.3 L227.4 342.1 L228.9 342.9 L230.5 343.6 L232.1 344.3 L233.7 344.9 L235.3 345.5 L236.8 346.2 L238.4 346.8 L240.0 347.4 L241.6 348.1 L243.2 348.7 L244.7 349.3 L246.3 350.0 L247.9 350.6 L249.6 351.3 L251.3 352.0 L253.1 352.8 L254.9 353.6 L256.7 354.4 L258.5 355.2 L260.3 356.0 M204.8 312.6 L206.3 313.7 L207.8 314.9 L209.3 316.1 L210.8 317.3 L212.4 318.4 L213.9 319.5 L215.4 320.4 L216.9 321.3 L218.4 322.2 L219.9 323.0 L221.5 323.8 L223.0 324.5 L224.6 325.3 L226.2 326.1 L227.8 326.8 L229.4 327.5 L231.0 328.2 L232.6 328.9 L234.1 329.6 L235.5 330.3 L237.0 331.0 L238.4 331.7 L239.9 332.4 L241.3 333.1 L242.8 333.6 L244.3 334.2 L245.8 334.7 L247.3 335.2 L248.8 335.7 L250.3 336.2 L251.8 336.8 L253.3 337.3 L254.7 337.8 L256.2 338.3 L257.7 338.9 L259.3 339.5 L261.0 340.2 L262.8 340.9 L264.6 341.7 L266.5 342.4 L268.3 343.2 L270.1 344.0 M215.7 301.7 L217.2 302.9 L218.7 304.1 L220.2 305.4 L221.7 306.6 L223.2 307.7 L224.6 308.8 L226.1 309.7 L227.6 310.6 L229.1 311.4 L230.6 312.1 L232.1 312.8 L233.6 313.5 L235.2 314.2 L236.8 314.8 L238.4 315.5 L240.0 316.1 L241.6 316.7 L243.2 317.3 L244.6 317.9 L246.1 318.5 L247.5 319.1 L248.9 319.7 L250.2 320.2 L251.7 320.8 L253.1 321.2 L254.5 321.6 L256.0 322.0 L257.4 322.4 L258.9 322.8 L260.3 323.2 L261.7 323.6 L263.1 324.0 L264.5 324.3 L265.9 324.8 L267.4 325.2 L269.0 325.7 L270.7 326.3 L272.5 327.0 L274.4 327.8 L276.3 328.5 L278.1 329.3 L280.0 330.0 M225.4 289.6 L226.9 290.6 L228.5 291.7 L230.1 292.7 L231.7 293.8 L233.3 294.7 L234.9 295.5 L236.4 296.2 L238.0 296.8 L239.6 297.3 L241.2 297.7 L242.8 298.1 L244.5 298.5 L246.2 298.8 L247.9 299.2 L249.7 299.4 L251.4 299.7 L253.1 300.0 L254.8 300.2 L256.3 300.5 L257.9 300.8 L259.3 301.0 L260.8 301.3 L262.3 301.5 L263.8 301.7 L265.3 301.8 L266.8 301.8 L268.3 301.9 L269.8 301.9 L271.4 301.9 L272.9 301.9 L274.4 302.0 L275.8 302.0 L277.3 302.0 L278.7 302.1 L280.3 302.2 L282.0 302.4 L283.8 302.7 L285.8 303.1 L287.8 303.5 L289.9 304.0 L292.0 304.5 L294.0 305.0 M234.5 277.1 L236.1 277.8 L237.8 278.5 L239.4 279.3 L241.1 280.0 L242.8 280.5 L244.5 281.0 L246.1 281.3 L247.8 281.4 L249.5 281.5 L251.2 281.5 L252.9 281.4 L254.6 281.3 L256.4 281.2 L258.3 281.1 L260.1 280.9 L262.0 280.6 L263.8 280.4 L265.6 280.2 L267.2 280.0 L268.8 279.8 L270.4 279.5 L271.9 279.3 L273.4 279.0 L275.0 278.7 L276.5 278.3 L278.1 277.9 L279.7 277.4 L281.3 276.9 L282.8 276.4 L284.4 275.9 L285.9 275.5 L287.4 275.0 L288.9 274.5 L290.5 274.0 L292.1 273.7 L293.9 273.4 L295.8 273.3 L297.9 273.2 L300.1 273.3 L302.3 273.4 L304.6 273.5 L306.8 273.5 M175.6 343.9 L177.9 342.7 L180.3 341.5 L182.6 340.2 L184.9 338.9 L187.2 337.7 L189.5 336.4 L191.6 335.1 L193.7 333.8 L195.8 332.5 L197.8 331.2 L199.9 329.9 L202.0 328.6 L204.1 327.3 L206.1 325.7 L208.0 324.2 L210.0 322.6 L211.9 321.0 L213.9 319.5 L215.8 317.9 L217.7 316.1 L219.4 314.3 L221.2 312.5 L222.9 310.6 L224.6 308.8 L226.5 306.7 L228.4 304.6 L230.2 302.5 L231.8 300.2 L233.3 297.8 L234.9 295.5 L236.4 293.1 L238.0 290.6 L239.5 288.1 L241.0 285.6 L242.6 283.2 L244.5 281.0 L246.3 278.9 L248.3 276.8 L250.2 274.8 L252.2 272.7 L254.1 270.6 L256.0 268.5 M185.2 349.9 L187.6 348.6 L190.0 347.3 L192.5 346.0 L194.8 344.6 L197.2 343.2 L199.5 341.8 L201.6 340.6 L203.6 339.3 L205.5 338.0 L207.5 336.6 L209.5 335.3 L211.5 334.0 L213.5 332.6 L215.5 331.0 L217.4 329.4 L219.3 327.8 L221.2 326.2 L223.0 324.5 L224.9 322.8 L226.7 321.1 L228.5 319.2 L230.2 317.3 L231.9 315.4 L233.6 313.5 L235.6 311.1 L237.6 308.7 L239.5 306.3 L241.2 303.7 L242.8 301.1 L244.5 298.5 L246.2 295.6 L247.9 292.7 L249.4 289.8 L251.0 286.9 L252.7 284.0 L254.6 281.3 L256.6 278.8 L258.7 276.4 L260.7 274.0 L262.7 271.5 L264.7 269.1 L266.7 266.6 M194.8 355.8 L197.3 354.4 L199.9 353.1 L202.4 351.7 L204.8 350.1 L207.3 348.6 L209.7 347.1 L211.7 345.8 L213.6 344.4 L215.5 343.0 L217.4 341.6 L219.3 340.2 L221.2 338.9 L223.3 337.4 L225.2 335.7 L227.0 334.0 L228.9 332.3 L230.7 330.6 L232.6 328.9 L234.4 327.1 L236.2 325.2 L238.0 323.2 L239.7 321.2 L241.4 319.2 L243.2 317.3 L245.3 314.5 L247.4 311.8 L249.4 309.1 L251.2 306.1 L253.0 303.2 L254.8 300.2 L256.6 296.9 L258.5 293.6 L260.1 290.1 L261.7 286.7 L263.5 283.3 L265.6 280.2 L267.6 277.3 L269.9 274.5 L272.0 271.6 L274.1 268.8 L276.2 265.9 L278.3 263.0 M204.4 361.7 L207.0 360.2 L209.6 358.8 L212.2 357.3 L214.7 355.6 L217.1 353.9 L219.6 352.2 L221.5 350.9 L223.3 349.4 L225.1 348.0 L226.9 346.5 L228.7 345.1 L230.5 343.6 L232.4 342.0 L234.3 340.3 L236.1 338.5 L237.9 336.7 L239.6 334.9 L241.3 333.1 L243.1 331.1 L244.9 329.1 L246.6 327.0 L248.3 324.9 L250.0 322.9 L251.7 320.8 L253.8 317.7 L256.0 314.6 L258.2 311.5 L260.1 308.3 L261.9 305.0 L263.8 301.7 L265.7 297.9 L267.7 294.1 L269.3 290.1 L271.0 286.2 L272.9 282.4 L275.0 278.7 L277.0 275.4 L279.4 272.2 L281.6 268.9 L283.8 265.6 L285.9 262.3 L288.1 259.0 M214.4 366.9 L217.1 365.3 L219.7 363.7 L222.4 362.1 L224.9 360.3 L227.4 358.4 L229.9 356.5 L231.7 355.2 L233.4 353.6 L235.1 352.1 L236.7 350.5 L238.4 349.0 L240.0 347.4 L241.9 345.7 L243.7 343.9 L245.4 342.0 L247.1 340.1 L248.7 338.2 L250.3 336.2 L252.0 334.1 L253.7 332.0 L255.4 329.8 L257.0 327.6 L258.7 325.4 L260.3 323.2 L262.6 319.7 L264.8 316.3 L267.1 312.9 L269.1 309.2 L271.0 305.6 L272.9 301.9 L275.0 297.6 L277.0 293.4 L278.7 288.9 L280.3 284.5 L282.3 280.1 L284.4 275.9 L286.5 272.1 L289.0 268.6 L291.2 264.8 L293.5 261.1 L295.7 257.3 L297.9 253.6 M224.4 372.0 L227.2 370.3 L229.9 368.6 L232.6 366.9 L235.2 364.9 L237.7 362.9 L240.2 360.8 L241.9 359.4 L243.5 357.8 L245.0 356.2 L246.5 354.6 L248.1 352.9 L249.6 351.3 L251.3 349.5 L253.1 347.6 L254.7 345.6 L256.3 343.6 L257.8 341.6 L259.3 339.5 L261.0 337.2 L262.6 334.9 L264.2 332.6 L265.8 330.3 L267.4 328.0 L269.0 325.7 L271.3 321.9 L273.7 318.1 L276.0 314.3 L278.1 310.4 L280.0 306.4 L282.0 302.4 L284.2 297.6 L286.3 292.9 L288.0 287.9 L289.7 283.0 L291.7 278.1 L293.9 273.4 L296.0 269.2 L298.6 265.2 L300.9 261.0 L303.1 256.8 L305.4 252.7 L307.7 248.5" fill="none" stroke="#ad8276" stroke-width="0.5"/>
<polyline points="159.4,241.4 165.7,338.6" fill="none" stroke="#333" stroke-width="0.7"/>
<polyline points="165.7,338.6 234.5,386.0 316.0,343.6" fill="none" stroke="#333" stroke-width="0.7"/>
<polyline points="157.3,242.2 159.4,241.6" fill="none" stroke="#333" stroke-width="0.7"/>
<text transform="matrix(0.9575 -0.2886 0.1542 1.0689 155.01 242.93)" x="0" y="2.31" class="b" font-size="7" text-anchor="end">2.4</text>
<polyline points="158.3,257.6 160.4,257.0" fill="none" stroke="#333" stroke-width="0.7"/>
<text transform="matrix(0.9575 -0.2886 0.1542 1.0689 156.01 258.33)" x="0" y="2.31" class="b" font-size="7" text-anchor="end">2.2</text>
<polyline points="159.3,272.2 161.4,271.6" fill="none" stroke="#333" stroke-width="0.7"/>
<text transform="matrix(0.9575 -0.2886 0.1542 1.0689 156.95 272.93)" x="0" y="2.31" class="b" font-size="7" text-anchor="end">2.0</text>
<polyline points="160.2,286.6 162.3,286.0" fill="none" stroke="#333" stroke-width="0.7"/>
<text transform="matrix(0.9575 -0.2886 0.1542 1.0689 157.89 287.33)" x="0" y="2.31" class="b" font-size="7" text-anchor="end">1.8</text>
<polyline points="161.1,300.6 163.2,300.0" fill="none" stroke="#333" stroke-width="0.7"/>
<text transform="matrix(0.9575 -0.2886 0.1542 1.0689 158.79 301.33)" x="0" y="2.31" class="b" font-size="7" text-anchor="end">1.6</text>
<polyline points="162.0,315.1 164.1,314.5" fill="none" stroke="#333" stroke-width="0.7"/>
<text transform="matrix(0.9575 -0.2886 0.1542 1.0689 159.73 315.83)" x="0" y="2.31" class="b" font-size="7" text-anchor="end">1.4</text>
<polyline points="162.9,328.6 165.0,328.0" fill="none" stroke="#333" stroke-width="0.7"/>
<text transform="matrix(0.9575 -0.2886 0.1542 1.0689 160.61 329.33)" x="0" y="2.31" class="b" font-size="7" text-anchor="end">1.2</text>
<text transform="matrix(0.0647 0.9979 -1.0341 0.3117 138.60 260.50)" x="0" y="0.00" class="b" font-size="8.3" text-anchor="start">Shape function <tspan dx="3.4">K</tspan><tspan dx="0.8" font-weight="normal" font-size="7.1">(T)</tspan></text>
<polyline points="179.5,348.1 177.3,349.2" fill="none" stroke="#333" stroke-width="0.7"/>
<text transform="matrix(0.8871 -0.4615 0.9058 0.6241 170.96 351.88)" x="0" y="1.91" class="b" font-size="5.8" text-anchor="middle">0.8</text>
<polyline points="193.2,357.6 191.0,358.7" fill="none" stroke="#333" stroke-width="0.7"/>
<text transform="matrix(0.8871 -0.4615 0.9058 0.6241 184.72 361.36)" x="0" y="1.91" class="b" font-size="5.8" text-anchor="middle">0.6</text>
<polyline points="207.0,367.0 204.8,368.1" fill="none" stroke="#333" stroke-width="0.7"/>
<text transform="matrix(0.8871 -0.4615 0.9058 0.6241 198.48 370.84)" x="0" y="1.91" class="b" font-size="5.8" text-anchor="middle">0.4</text>
<polyline points="220.7,376.5 218.5,377.6" fill="none" stroke="#333" stroke-width="0.7"/>
<text transform="matrix(0.8871 -0.4615 0.9058 0.6241 212.24 380.32)" x="0" y="1.91" class="b" font-size="5.8" text-anchor="middle">0.2</text>
<polyline points="234.5,386.0 232.3,387.1" fill="none" stroke="#333" stroke-width="0.7"/>
<text transform="matrix(0.8871 -0.4615 0.9058 0.6241 226.00 389.80)" x="0" y="1.91" class="b" font-size="5.8" text-anchor="middle">0.0</text>
<polyline points="234.5,386.0 236.2,387.4" fill="none" stroke="#333" stroke-width="0.7"/>
<text transform="matrix(0.8235 0.5673 -0.9758 0.5077 241.30 389.70)" x="0" y="1.91" class="b" font-size="5.8" text-anchor="middle">1.0</text>
<polyline points="250.8,377.5 252.5,378.9" fill="none" stroke="#333" stroke-width="0.7"/>
<text transform="matrix(0.8235 0.5673 -0.9758 0.5077 257.60 381.22)" x="0" y="1.91" class="b" font-size="5.8" text-anchor="middle">0.8</text>
<polyline points="267.1,369.0 268.8,370.4" fill="none" stroke="#333" stroke-width="0.7"/>
<text transform="matrix(0.8235 0.5673 -0.9758 0.5077 273.90 372.74)" x="0" y="1.91" class="b" font-size="5.8" text-anchor="middle">0.6</text>
<polyline points="283.4,360.6 285.1,362.0" fill="none" stroke="#333" stroke-width="0.7"/>
<text transform="matrix(0.8235 0.5673 -0.9758 0.5077 290.20 364.26)" x="0" y="1.91" class="b" font-size="5.8" text-anchor="middle">0.4</text>
<polyline points="299.7,352.1 301.4,353.5" fill="none" stroke="#333" stroke-width="0.7"/>
<text transform="matrix(0.8235 0.5673 -0.9758 0.5077 306.50 355.78)" x="0" y="1.91" class="b" font-size="5.8" text-anchor="middle">0.2</text>
<polyline points="316.0,343.6 317.7,345.0" fill="none" stroke="#333" stroke-width="0.7"/>
<text transform="matrix(0.8235 0.5673 -0.9758 0.5077 322.80 347.30)" x="0" y="1.91" class="b" font-size="5.8" text-anchor="middle">0.0</text>
<text transform="matrix(0.7997 0.6004 -1.0202 0.5308 147.30 351.20)" x="0" y="0.00" class="b" font-size="6.8" text-anchor="start">Knowledge and skills ξ1</text>
<text transform="matrix(0.9018 -0.4321 0.9058 0.6241 256.80 398.50)" x="0" y="0.00" class="b" font-size="7.5" text-anchor="start">Psychological qualities ξ2</text>
<text x="323.2" y="227.3" class="lb" font-size="9.3">The physiological</text>
<text x="323.2" y="239.1" class="lb" font-size="9.3">quality level is "poor"</text>
<polyline points="358.4,240.5 358.4,250.1 320.5,250.1" fill="none" stroke="#4a4a4a" stroke-width="0.8"/>
<text x="323.6" y="265.0" class="lb" font-size="9.3">The physiological</text>
<text x="323.6" y="276.7" class="lb" font-size="9.3">quality level is "average"</text>
<polyline points="359.4,279.5 359.4,289.4 305.0,289.4" fill="none" stroke="#4a4a4a" stroke-width="0.8"/>
<text x="325.6" y="303.7" class="lb" font-size="9.3">The physiological qua-</text>
<text x="325.6" y="315.4" class="lb" font-size="9.3" xml:space="preserve">lity level is  "excellent"</text>
<polyline points="360.6,318.0 360.6,328.8 288.0,328.8" fill="none" stroke="#4a4a4a" stroke-width="0.8"/>
<text x="273.7" y="416.2" class="cap" text-anchor="middle">(<tspan font-weight="bold">c</tspan>)</text>
</svg>
</body></html>
